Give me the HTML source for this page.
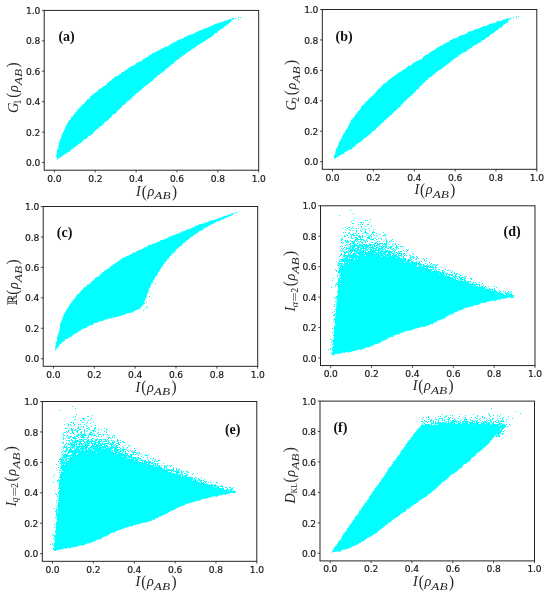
<!DOCTYPE html>
<html lang="en"><head><meta charset="utf-8"><title>Figure</title>
<style>html,body{margin:0;padding:0;background:#fff}svg{display:block}</style></head>
<body>
<svg width="550" height="594" viewBox="0 0 550 594">
<rect width="550" height="594" fill="#fff"/>
<g id="ax-a">
<polygon fill="#00ffff" points="56.8,159.6 57.0,159.2 57.1,157.5 56.9,156.9 55.8,156.3 56.7,154.4 56.5,154.0 57.4,152.7 56.4,152.6 56.8,151.4 57.0,150.0 57.9,149.1 58.6,147.7 58.0,147.1 58.1,146.3 59.0,144.9 58.7,143.8 59.3,143.0 59.0,141.7 60.2,141.6 59.8,140.1 60.4,139.0 60.8,137.6 61.6,137.8 61.5,136.4 61.8,134.9 62.7,133.8 62.2,133.8 63.5,131.7 63.9,131.1 64.2,129.9 65.0,129.2 65.1,128.3 65.0,127.3 66.0,125.8 66.6,125.3 67.4,124.0 67.7,123.1 67.9,121.9 68.7,120.9 69.1,120.6 70.3,119.8 71.0,118.3 70.8,117.0 72.2,117.2 73.1,115.6 73.8,115.2 74.2,114.4 74.4,113.4 75.8,112.4 76.5,111.8 76.6,110.9 77.9,110.1 78.0,108.6 78.9,108.6 80.0,108.0 80.8,106.7 80.9,106.0 82.3,104.9 82.2,104.8 83.8,103.9 84.6,103.2 84.9,102.3 85.6,101.9 86.0,101.1 87.3,99.9 87.3,98.8 89.1,98.9 89.8,98.0 89.9,97.2 90.8,96.3 91.5,95.8 92.0,94.8 93.7,94.9 93.4,93.5 94.8,93.1 96.0,92.5 96.3,92.0 97.6,91.4 97.7,91.1 98.9,89.5 99.7,88.8 100.3,89.1 101.1,88.4 102.7,87.0 103.7,86.1 103.9,86.6 104.6,85.8 105.7,84.9 107.0,84.4 107.0,83.5 108.0,82.8 109.4,81.7 109.5,80.9 110.2,81.3 111.9,79.6 111.9,78.8 113.3,79.0 114.0,77.7 114.6,77.1 115.7,76.3 116.9,76.6 117.2,76.3 118.6,75.3 118.4,74.7 119.6,74.4 120.8,73.9 121.2,72.7 122.0,72.2 123.2,71.8 124.6,71.5 125.1,70.5 126.1,69.6 126.9,70.1 127.2,69.4 128.3,68.2 129.3,67.6 130.9,67.1 131.1,66.1 132.7,66.0 133.7,65.1 133.8,64.9 135.4,64.7 136.2,63.2 136.7,63.2 137.9,62.3 138.4,62.4 138.9,61.6 140.3,61.6 141.9,60.9 142.3,60.5 143.3,59.0 144.0,58.5 144.5,58.7 146.2,57.3 146.8,57.5 148.0,56.8 148.6,56.1 149.7,54.9 149.9,54.6 151.5,54.9 151.6,53.5 152.8,53.1 154.2,53.2 154.9,52.3 155.5,52.1 156.6,51.6 157.2,50.7 157.9,50.9 159.3,50.3 160.5,49.3 161.3,49.1 161.7,49.3 162.6,48.0 164.2,48.1 164.5,47.5 165.0,46.6 166.4,46.7 167.8,46.5 168.6,45.9 169.3,45.1 169.5,44.7 171.3,43.9 171.4,43.2 173.2,43.6 173.4,42.3 174.8,42.1 175.2,42.3 175.9,41.5 177.8,40.4 178.3,39.9 179.2,39.4 180.1,39.6 181.2,38.9 181.4,39.1 182.9,38.4 183.6,38.3 184.6,37.0 185.4,37.2 186.3,36.4 187.1,35.8 188.0,35.5 189.3,35.3 189.4,34.6 190.4,34.6 191.7,34.4 193.2,33.7 194.3,33.2 195.3,33.0 195.5,32.4 197.4,31.5 197.9,31.8 199.5,30.6 200.0,30.5 201.1,29.7 201.9,30.1 202.7,29.7 204.6,28.4 205.5,28.2 205.5,28.1 207.6,27.8 207.7,27.4 209.3,26.5 210.5,26.5 210.6,26.3 212.0,25.4 213.5,24.7 213.7,25.0 214.6,23.9 216.3,23.7 216.6,23.6 217.9,23.3 218.5,23.2 219.4,22.7 221.1,21.9 221.7,22.4 223.3,21.3 223.5,21.5 224.6,20.5 226.2,20.7 227.2,19.8 227.8,20.5 229.2,19.5 229.8,18.8 230.7,19.1 231.7,18.9 232.8,17.8 233.5,17.5 234.2,19.1 233.3,19.8 232.5,19.8 231.3,20.8 230.9,22.0 230.4,22.3 229.6,22.8 228.4,23.9 227.7,24.6 226.9,24.6 226.3,25.9 225.4,25.9 224.0,26.6 223.7,27.5 222.7,28.5 221.5,28.8 220.8,29.1 220.0,30.1 218.7,30.7 218.2,30.9 217.7,32.3 216.9,32.9 215.4,33.0 214.7,33.2 214.4,33.9 213.7,35.0 212.4,36.1 211.4,36.7 211.1,37.1 210.4,37.5 208.9,38.3 207.8,39.0 206.8,39.8 206.9,39.6 205.3,40.7 205.1,41.0 203.6,41.7 202.3,42.7 202.0,43.1 201.3,43.0 199.8,44.2 198.8,44.6 198.3,44.9 197.0,45.8 196.2,46.6 196.3,46.4 195.2,47.5 194.3,47.7 193.0,49.1 192.8,48.6 191.3,49.5 190.8,49.8 190.5,51.0 188.9,51.2 187.9,51.6 187.2,52.9 186.7,52.5 186.3,53.4 184.4,54.4 184.5,55.1 182.9,55.7 182.1,56.0 182.3,56.6 180.7,57.1 180.0,57.7 179.3,58.7 178.6,58.8 177.8,59.8 176.4,60.5 175.9,60.6 175.1,61.7 174.2,62.7 173.6,63.5 172.1,64.2 172.1,63.8 170.7,65.6 169.7,66.3 168.6,66.9 168.9,67.3 167.5,67.9 166.5,68.3 166.1,69.1 165.1,69.4 164.8,71.2 163.1,71.6 162.6,72.3 161.3,73.0 160.8,73.5 160.2,73.4 159.2,75.0 157.9,75.3 157.5,75.7 157.0,76.4 155.8,77.5 154.6,78.5 153.6,78.4 153.7,79.7 152.8,80.6 151.9,81.2 150.5,82.0 150.3,82.0 149.5,82.6 148.7,83.9 147.0,84.8 146.8,85.1 146.1,85.8 145.3,86.0 143.5,87.5 143.2,88.0 142.2,88.8 142.3,89.2 141.3,89.8 140.1,90.6 139.8,91.0 138.1,92.2 138.3,93.1 136.9,92.8 135.8,93.5 135.6,94.3 134.7,95.4 134.0,95.6 132.8,96.9 131.9,97.2 131.7,98.4 130.8,98.8 130.2,99.7 129.4,100.6 128.7,100.3 128.4,101.0 126.5,102.0 126.5,103.0 125.0,103.7 125.0,104.5 124.1,104.8 122.7,105.2 122.0,106.4 121.9,107.2 121.1,107.7 119.8,108.6 119.8,109.1 118.2,110.5 117.4,110.8 117.0,111.3 116.8,111.7 115.9,113.3 115.2,114.1 114.3,113.7 113.0,114.4 112.2,115.6 111.6,116.8 111.5,117.3 110.2,118.1 108.9,117.9 109.1,119.1 108.3,120.0 107.1,120.4 106.6,121.7 105.6,121.6 104.7,122.4 104.4,123.1 103.3,123.9 102.0,125.2 101.9,125.6 100.7,126.6 100.1,126.6 98.8,127.7 98.8,128.3 97.4,128.8 97.0,129.0 95.7,130.3 95.1,131.1 94.4,132.0 93.8,132.1 93.0,133.2 92.5,134.1 91.3,134.8 90.3,135.4 90.2,135.9 88.7,135.8 88.0,136.9 87.9,137.3 86.7,138.2 85.2,139.6 84.5,139.2 83.6,139.8 83.3,140.3 82.6,141.2 81.3,142.5 80.2,143.0 80.4,143.7 78.7,143.5 78.6,144.0 77.2,145.2 76.9,145.8 75.7,146.1 75.1,147.2 74.4,147.4 73.5,148.0 71.9,148.9 71.0,149.0 71.3,149.8 70.4,151.2 68.8,151.7 68.7,152.2 67.1,152.5 66.7,153.4 66.2,153.7 65.1,153.8 64.4,154.8 63.3,155.0 62.1,156.2 61.2,156.8 60.9,157.8 59.3,157.5 58.1,159.0 57.5,160.0"/>
<path fill="#00ffff" d="M238 17h1v1h-1zM240 17h1v1h-1zM238 19h1v1h-1zM235 18h1v1h-1z"/>
<rect x="44.20" y="10.40" width="214.50" height="159.80" fill="none" stroke="#1a1a1a" stroke-width="0.95"/>
<path d="M54.41 170.20v2.3M44.20 162.59h-2.3M95.27 170.20v2.3M44.20 132.15h-2.3M136.13 170.20v2.3M44.20 101.71h-2.3M176.99 170.20v2.3M44.20 71.28h-2.3M217.84 170.20v2.3M44.20 40.84h-2.3M258.70 170.20v2.3M44.20 10.40h-2.3" stroke="#1a1a1a" stroke-width="0.75" fill="none"/>
<g font-family="DejaVu Sans, Liberation Sans, sans-serif" font-size="9.1" letter-spacing="-0.12" fill="#161616" stroke="#161616" stroke-width="0.18"><text x="54.4" y="181.5" text-anchor="middle">0.0</text><text x="40.2" y="166.2" text-anchor="end">0.0</text><text x="95.3" y="181.5" text-anchor="middle">0.2</text><text x="40.2" y="135.8" text-anchor="end">0.2</text><text x="136.1" y="181.5" text-anchor="middle">0.4</text><text x="40.2" y="105.3" text-anchor="end">0.4</text><text x="177.0" y="181.5" text-anchor="middle">0.6</text><text x="40.2" y="74.9" text-anchor="end">0.6</text><text x="217.8" y="181.5" text-anchor="middle">0.8</text><text x="40.2" y="44.4" text-anchor="end">0.8</text><text x="258.7" y="181.5" text-anchor="middle">1.0</text><text x="40.2" y="14.0" text-anchor="end">1.0</text></g>
<text x="66.6" y="41.4" text-anchor="middle" font-family="Liberation Serif, DejaVu Serif, serif" font-weight="bold" font-size="14" fill="#111">(a)</text>
<g transform="translate(136.1 195.8)" font-family="Liberation Serif, DejaVu Serif, serif" font-size="14.2" fill="#262626"><text x="0.0" y="0.0" font-style="italic">I</text><text transform="translate(5.6 0.8) scale(1.00 1.11)" font-size="15.2">(</text><text x="11.3" y="0.0" font-style="italic">ρ</text><text transform="translate(18.2 3.6) scale(1.36 1.00)" font-style="italic" font-size="9.8">AB</text><text transform="translate(35.8 0.8) scale(1.00 1.11)" font-size="15.2">)</text></g>
<g transform="translate(18.2 113.1) rotate(-90)" font-family="Liberation Serif, DejaVu Serif, serif" font-size="14.2" fill="#262626"><text x="0.0" y="0.0" font-style="italic" font-size="14.4">G</text><text x="8.7" y="2.4" font-size="10.0">1</text><text transform="translate(15.3 -0.3) scale(1.00 1.11)" font-size="15.2">(</text><text x="21.0" y="0.0" font-style="italic">ρ</text><text transform="translate(27.9 3.6) scale(1.36 1.00)" font-style="italic" font-size="9.8">AB</text><text transform="translate(45.5 -0.3) scale(1.00 1.11)" font-size="15.2">)</text></g>
</g>
<g id="ax-b">
<polygon fill="#00ffff" points="334.0,158.3 333.9,157.6 333.9,156.6 333.9,155.7 334.8,154.7 335.3,153.9 335.4,152.2 335.4,150.9 336.5,149.6 335.9,149.0 336.3,148.3 337.7,147.3 337.6,146.2 337.9,145.3 338.7,144.2 338.6,143.1 338.8,142.6 340.0,141.3 340.4,140.7 340.3,139.4 341.5,139.4 341.4,138.1 342.0,137.1 342.4,136.2 342.7,135.0 343.2,134.4 344.2,133.6 344.4,132.8 345.0,132.2 345.4,130.4 346.0,129.7 347.0,129.3 347.6,128.1 348.0,127.3 347.7,125.7 349.2,125.8 349.2,123.8 349.5,123.7 350.3,122.6 351.2,121.2 351.0,120.1 351.8,119.2 352.7,118.9 353.4,117.5 354.5,116.4 355.0,116.1 355.5,114.7 355.3,115.0 356.4,113.6 356.6,113.3 357.5,112.5 357.9,111.0 359.4,110.8 360.1,108.9 360.6,109.0 361.3,108.0 361.1,106.9 361.7,105.5 362.9,105.5 364.0,104.1 364.7,103.8 365.2,102.8 365.7,102.6 366.2,101.0 366.9,101.1 367.3,100.7 368.5,99.4 368.8,98.9 370.0,97.7 371.0,96.7 371.1,96.8 371.7,96.1 373.2,95.5 373.9,94.3 373.9,93.8 375.3,93.3 376.0,91.5 376.8,91.6 377.2,90.1 377.5,89.4 378.0,89.2 378.7,88.8 379.4,88.4 381.0,87.0 381.6,86.0 382.7,85.8 382.7,84.5 383.5,84.0 384.8,83.5 385.2,82.8 386.5,82.8 387.4,81.1 388.4,80.4 388.2,80.4 389.7,79.0 391.0,79.1 390.9,78.4 391.7,77.4 392.9,76.7 393.3,76.5 394.5,76.2 394.9,74.9 396.7,74.5 396.6,74.4 397.5,73.4 398.8,72.8 399.3,71.9 400.4,71.7 401.7,71.3 401.6,70.8 403.2,69.8 404.5,69.6 404.9,68.4 405.3,68.4 406.9,68.0 407.0,67.1 408.4,65.8 409.2,66.3 409.9,65.7 411.3,64.9 412.0,64.4 413.0,63.1 414.1,63.1 414.8,62.1 415.9,61.5 417.0,60.9 417.8,60.8 418.6,60.7 419.3,59.8 420.4,59.6 421.8,59.2 422.6,58.3 423.1,57.0 423.7,56.4 424.4,56.0 425.4,54.9 426.2,54.9 427.4,54.5 428.2,53.3 429.2,53.4 429.9,52.2 431.3,52.1 431.7,51.1 432.2,50.9 434.0,50.0 434.8,50.1 435.0,49.3 435.9,49.0 437.1,47.5 437.8,47.2 439.6,46.9 439.4,46.1 441.2,46.0 441.4,45.2 442.9,45.2 443.2,44.7 444.2,43.8 445.2,43.7 446.0,42.8 447.1,42.3 448.3,42.2 448.9,41.7 449.7,40.8 450.4,40.2 451.9,39.7 452.5,39.1 453.4,39.0 454.2,38.1 454.9,38.5 456.4,38.3 456.7,37.9 458.4,36.7 459.0,36.3 460.6,36.1 460.6,35.3 461.9,35.1 463.1,35.1 463.9,34.5 465.3,33.9 466.3,33.7 467.5,33.0 467.6,31.9 468.6,31.4 469.7,31.5 471.0,31.2 472.1,31.0 472.9,30.7 474.5,29.6 475.3,29.5 476.5,29.1 476.7,28.9 478.0,29.0 478.7,28.3 480.3,28.1 481.2,26.9 482.4,27.0 482.6,27.1 483.6,25.8 485.0,26.3 486.3,25.9 487.2,25.1 487.7,25.3 489.0,24.5 489.8,23.8 491.4,23.3 492.0,23.6 493.2,23.0 493.7,23.2 495.6,22.7 496.6,22.6 496.6,21.3 497.9,20.8 499.2,21.2 500.2,21.2 501.2,20.6 502.4,20.5 503.6,19.3 504.2,19.2 505.5,19.6 506.4,18.4 506.7,18.3 508.7,18.8 509.5,18.4 510.2,18.1 511.0,18.0 512.3,17.1 511.8,17.9 511.3,18.3 510.1,19.8 510.2,19.8 508.3,20.3 508.3,21.6 507.6,22.5 506.6,23.1 506.0,23.6 505.0,24.1 503.6,24.6 502.6,26.1 502.6,26.2 501.8,27.5 500.0,27.8 499.6,28.2 498.5,28.6 498.4,30.0 496.7,30.2 496.4,30.5 495.0,31.7 494.8,32.5 493.5,32.8 493.0,32.9 492.1,33.6 491.1,34.2 491.0,34.5 489.5,35.2 489.3,36.8 487.9,36.8 487.1,37.3 485.9,37.8 485.8,38.3 484.9,39.6 484.0,39.9 482.4,40.3 481.7,40.5 481.2,41.5 480.2,42.7 479.1,42.5 478.6,43.1 477.2,44.1 475.7,44.9 476.0,44.7 474.7,45.5 473.3,45.8 472.5,47.1 471.4,47.7 470.5,47.9 469.8,48.9 469.2,48.8 468.0,50.1 466.9,50.3 466.7,51.2 465.4,52.0 464.7,52.2 463.8,52.3 462.6,53.0 461.7,53.4 460.3,54.6 459.6,55.1 458.6,54.9 458.4,56.4 457.6,56.8 455.9,57.6 455.4,58.0 455.1,58.4 453.4,59.3 452.7,60.0 452.4,60.8 451.4,60.6 450.7,61.7 449.4,62.9 449.3,63.2 447.6,63.6 447.7,63.9 446.6,65.0 445.1,65.9 444.8,66.0 444.0,66.9 442.8,67.7 442.1,68.5 441.8,68.9 440.4,69.5 439.2,70.3 438.6,70.1 438.2,70.9 437.3,71.6 436.4,72.0 435.4,73.1 434.6,74.0 433.6,74.4 432.8,75.4 432.0,76.1 431.3,76.4 431.1,76.6 430.3,77.2 428.5,78.0 428.1,79.2 427.8,79.8 426.2,80.2 425.3,81.1 425.2,81.9 424.1,82.7 423.1,83.5 422.6,84.2 421.9,85.2 421.3,85.1 420.4,86.5 419.4,87.3 418.8,88.4 418.2,89.2 417.1,89.1 416.7,89.8 415.8,90.6 415.5,91.4 414.8,92.7 413.4,92.8 413.0,94.4 411.6,95.0 411.4,95.2 410.4,96.6 409.6,96.4 409.6,97.0 408.7,97.5 407.8,98.2 407.3,99.5 406.0,99.8 405.3,101.5 405.0,101.0 403.8,101.9 403.7,102.6 402.2,104.3 402.2,104.7 400.7,104.7 400.7,105.9 400.3,107.2 398.5,107.4 397.7,108.2 398.0,108.7 396.5,109.6 396.1,110.8 394.7,110.7 394.3,111.5 393.9,112.4 392.6,113.1 391.9,114.7 391.6,114.8 390.0,115.6 389.5,116.5 389.4,116.3 387.7,118.0 387.5,117.9 386.3,119.1 386.1,119.4 384.8,120.0 384.6,120.6 383.5,122.0 383.2,122.6 381.5,122.9 381.2,124.0 380.1,124.6 380.4,125.8 378.9,125.8 377.9,126.6 377.8,127.2 376.5,128.3 376.3,128.2 375.6,129.5 374.8,130.5 374.0,130.4 372.4,131.6 371.8,131.7 371.3,133.3 370.1,134.2 369.2,134.8 369.0,134.7 368.0,135.7 367.0,136.6 366.5,137.3 365.2,138.1 364.1,138.1 363.9,138.9 362.4,140.0 362.5,140.4 360.9,141.3 360.7,142.0 359.6,142.3 358.7,143.2 357.7,143.2 357.1,143.8 355.9,145.3 354.9,146.0 354.8,146.8 354.0,147.1 352.6,147.2 352.5,148.7 350.8,149.4 350.5,149.7 349.7,149.7 348.3,150.2 347.1,151.1 346.5,152.0 345.5,151.6 344.3,152.7 344.5,153.7 343.2,154.1 341.5,154.6 341.3,154.5 339.7,155.7 338.8,156.0 337.9,156.7 337.0,157.7 336.9,157.2 334.9,158.8 334.8,159.2"/>
<path fill="#00ffff" d="M516 16h1v1h-1zM518 16h1v1h-1zM516 18h1v1h-1zM513 17h1v1h-1z"/>
<rect x="322.30" y="9.50" width="214.50" height="159.80" fill="none" stroke="#1a1a1a" stroke-width="0.95"/>
<path d="M332.51 169.30v2.3M322.30 161.69h-2.3M373.37 169.30v2.3M322.30 131.25h-2.3M414.23 169.30v2.3M322.30 100.81h-2.3M455.09 169.30v2.3M322.30 70.38h-2.3M495.94 169.30v2.3M322.30 39.94h-2.3M536.80 169.30v2.3M322.30 9.50h-2.3" stroke="#1a1a1a" stroke-width="0.75" fill="none"/>
<g font-family="DejaVu Sans, Liberation Sans, sans-serif" font-size="9.1" letter-spacing="-0.12" fill="#161616" stroke="#161616" stroke-width="0.18"><text x="332.5" y="180.6" text-anchor="middle">0.0</text><text x="318.3" y="165.3" text-anchor="end">0.0</text><text x="373.4" y="180.6" text-anchor="middle">0.2</text><text x="318.3" y="134.9" text-anchor="end">0.2</text><text x="414.2" y="180.6" text-anchor="middle">0.4</text><text x="318.3" y="104.4" text-anchor="end">0.4</text><text x="455.1" y="180.6" text-anchor="middle">0.6</text><text x="318.3" y="74.0" text-anchor="end">0.6</text><text x="495.9" y="180.6" text-anchor="middle">0.8</text><text x="318.3" y="43.5" text-anchor="end">0.8</text><text x="536.8" y="180.6" text-anchor="middle">1.0</text><text x="318.3" y="13.1" text-anchor="end">1.0</text></g>
<text x="344.1" y="40.5" text-anchor="middle" font-family="Liberation Serif, DejaVu Serif, serif" font-weight="bold" font-size="14" fill="#111">(b)</text>
<g transform="translate(414.5 194.4)" font-family="Liberation Serif, DejaVu Serif, serif" font-size="14.2" fill="#262626"><text x="0.0" y="0.0" font-style="italic">I</text><text transform="translate(5.6 0.8) scale(1.00 1.11)" font-size="15.2">(</text><text x="11.3" y="0.0" font-style="italic">ρ</text><text transform="translate(18.2 3.6) scale(1.36 1.00)" font-style="italic" font-size="9.8">AB</text><text transform="translate(35.8 0.8) scale(1.00 1.11)" font-size="15.2">)</text></g>
<g transform="translate(296.4 110.5) rotate(-90)" font-family="Liberation Serif, DejaVu Serif, serif" font-size="14.2" fill="#262626"><text x="0.0" y="0.0" font-style="italic" font-size="14.4">G</text><text x="8.5" y="2.6" font-size="10.0">2</text><text transform="translate(15.2 -0.3) scale(1.00 1.11)" font-size="15.2">(</text><text x="20.9" y="0.0" font-style="italic">ρ</text><text transform="translate(27.8 3.6) scale(1.36 1.00)" font-style="italic" font-size="9.8">AB</text><text transform="translate(45.4 -0.3) scale(1.00 1.11)" font-size="15.2">)</text></g>
</g>
<g id="ax-c">
<polygon fill="#00ffff" points="55.0,349.4 55.5,348.4 55.1,346.5 55.5,346.1 56.2,345.0 55.6,343.4 55.8,343.5 55.8,342.2 57.2,341.0 57.3,340.1 57.0,338.9 56.8,337.7 57.0,337.2 57.9,335.4 57.9,334.4 58.4,333.7 58.6,332.5 59.2,332.1 59.3,331.2 59.2,329.3 59.6,328.9 60.1,327.8 60.0,326.3 59.9,325.1 60.3,324.9 60.2,323.5 61.1,322.0 60.9,322.1 62.1,320.1 62.7,319.4 62.1,318.9 62.7,317.2 63.3,317.1 63.3,315.6 64.0,313.9 64.0,313.4 65.3,312.9 65.0,311.9 66.4,310.5 66.5,310.1 67.1,308.8 67.7,308.3 68.6,307.0 68.3,306.0 69.4,305.4 69.9,304.9 70.1,304.0 70.7,303.2 72.2,301.7 72.5,300.7 73.3,300.2 73.3,299.3 74.7,299.0 74.9,297.9 75.7,297.0 76.6,295.7 76.9,294.6 78.5,294.0 78.9,294.0 79.3,293.1 79.8,292.2 81.0,291.3 81.9,290.0 82.2,290.0 83.2,288.5 83.7,287.7 84.7,286.9 86.0,286.9 86.8,285.5 87.1,284.8 87.9,284.6 89.2,284.4 89.5,283.5 90.9,283.0 91.0,282.2 91.6,281.3 93.5,280.2 93.7,279.9 94.5,279.3 95.0,277.9 95.8,277.4 97.2,276.7 97.8,276.8 99.1,276.2 100.2,274.7 100.1,274.4 101.7,273.2 102.0,272.4 103.4,272.0 103.8,271.8 104.1,270.9 105.3,270.8 105.8,269.9 107.2,268.8 108.4,269.0 108.6,268.5 109.8,267.5 110.4,266.3 110.8,266.2 112.1,265.4 113.0,265.2 113.5,264.6 114.8,263.4 115.6,263.3 116.7,262.3 117.2,261.8 118.6,261.1 119.2,260.6 120.3,260.2 120.9,259.2 121.8,258.3 123.3,258.0 123.4,258.2 124.5,256.8 125.9,257.3 126.6,255.8 127.8,255.7 128.8,255.7 128.8,254.7 130.6,254.8 130.9,254.4 131.9,253.5 133.0,252.7 134.0,252.2 134.8,252.7 135.9,251.9 136.8,251.2 138.1,250.2 139.2,250.3 140.3,249.4 140.7,249.0 141.8,249.4 143.4,248.2 143.8,247.7 145.5,246.9 146.2,247.6 146.8,246.8 147.8,245.8 148.8,245.1 149.9,244.4 151.4,245.0 152.5,244.0 153.0,243.3 153.6,244.0 154.7,243.3 156.4,242.3 157.4,242.5 158.4,241.4 159.1,241.9 160.5,240.8 160.4,240.0 161.7,240.0 163.3,240.1 163.8,239.3 165.0,239.2 165.7,238.5 167.2,238.2 168.3,237.8 168.5,237.0 169.7,236.5 170.5,236.5 171.8,235.8 173.2,235.6 174.1,234.4 174.8,235.0 176.1,234.6 176.9,233.8 177.5,233.7 179.5,233.2 179.5,232.1 181.0,232.7 181.6,231.5 183.3,231.3 184.6,230.6 185.2,230.9 185.9,230.4 186.7,229.2 187.9,229.5 189.4,229.3 190.4,228.8 191.5,227.9 192.3,227.9 192.5,227.1 193.6,227.2 195.6,226.1 196.1,225.5 197.0,225.5 198.2,225.2 198.6,224.6 200.4,224.3 201.5,223.9 202.5,223.3 202.9,224.0 203.7,223.5 204.4,222.9 206.3,221.9 207.5,222.5 208.2,221.7 209.2,221.3 209.8,220.4 210.9,220.8 212.1,219.8 212.8,220.1 214.6,220.0 215.3,219.6 216.6,219.4 217.6,218.2 218.1,218.8 219.1,217.8 219.5,218.1 221.3,217.2 222.5,216.9 223.0,216.9 223.4,215.8 225.0,215.8 226.3,216.2 226.4,215.6 228.4,214.8 229.0,214.8 230.6,214.6 231.0,214.3 231.5,213.3 232.9,213.2 233.9,213.3 235.5,213.1 235.9,211.9 237.8,212.5 238.2,211.1 238.5,212.1 237.3,213.0 236.7,213.2 235.9,213.3 234.2,213.4 233.2,214.3 233.3,214.2 231.9,215.3 230.9,215.8 229.5,216.2 228.4,216.9 227.7,217.1 226.9,217.7 226.1,217.6 224.6,218.5 224.1,218.9 223.4,219.6 222.0,219.3 220.8,220.6 219.5,221.0 219.1,220.9 218.2,221.2 217.4,221.6 216.1,221.8 215.3,223.0 214.5,222.6 213.9,223.8 212.3,223.9 212.0,223.8 211.3,224.5 209.8,225.7 208.7,225.5 208.7,225.9 207.3,227.1 206.7,227.1 205.0,227.9 204.1,228.2 203.7,228.6 203.1,230.1 201.4,230.4 201.3,230.4 199.7,231.3 198.6,231.4 197.8,232.9 197.3,233.2 196.5,233.0 196.0,234.0 194.4,234.4 194.5,235.1 193.4,235.3 192.9,236.6 191.4,236.7 191.2,237.1 190.6,237.6 189.0,238.8 188.6,239.7 187.2,240.2 187.3,240.4 185.8,240.9 185.0,242.2 184.6,242.9 183.3,243.3 182.6,243.9 181.8,244.9 182.0,245.6 180.7,246.0 179.8,246.3 179.6,246.9 178.8,247.6 177.6,248.4 176.6,249.5 175.7,249.7 175.8,250.4 175.0,252.1 173.5,252.9 173.5,253.3 171.8,253.6 172.1,254.8 171.0,255.6 169.6,256.4 169.4,256.7 169.3,258.2 167.8,258.4 167.5,259.3 166.9,260.0 166.6,261.0 165.3,261.7 165.6,261.9 164.4,263.2 163.2,264.3 163.6,265.6 162.4,265.7 162.3,266.6 161.4,267.4 161.1,268.4 159.8,269.7 159.9,270.3 158.9,271.9 158.4,272.3 158.1,273.2 157.5,274.0 157.0,274.9 156.6,276.4 155.3,276.5 155.4,277.3 154.6,278.2 154.0,279.7 153.0,280.2 152.7,281.6 152.8,281.8 152.2,282.5 151.0,284.2 151.1,284.8 150.4,286.1 150.8,286.7 149.4,288.1 148.9,288.7 148.5,289.5 148.9,290.6 148.7,291.8 147.6,293.3 147.7,293.6 147.0,294.6 146.9,295.6 146.7,297.3 145.6,298.4 144.9,298.8 145.6,299.4 144.8,300.9 143.9,302.6 143.7,303.7 143.3,305.1 142.2,305.5 141.8,306.2 140.5,308.1 140.6,308.1 138.7,309.4 137.5,309.4 136.7,310.1 135.4,310.3 135.1,310.9 133.5,311.2 133.4,312.0 132.1,312.9 131.1,312.2 129.9,313.0 129.3,313.0 127.4,313.3 127.1,313.3 125.8,313.8 124.9,314.9 123.5,314.4 122.4,315.6 121.6,315.0 121.4,315.8 120.1,316.2 118.5,316.2 117.9,316.9 116.5,316.9 116.0,317.1 114.6,317.3 113.8,317.8 113.6,317.6 112.1,317.6 111.3,318.4 109.6,318.4 108.5,318.6 107.4,319.7 106.7,319.3 105.5,319.1 104.6,320.5 103.8,320.5 102.7,320.8 101.7,321.4 101.1,320.9 99.7,321.1 98.7,322.1 98.5,322.3 97.5,322.3 96.1,323.1 94.7,323.1 93.8,323.2 93.2,324.7 91.6,325.2 91.1,325.3 89.5,325.6 88.6,326.3 88.0,326.5 86.7,327.0 86.3,328.0 85.5,328.2 84.2,328.2 82.9,329.0 81.5,329.0 81.4,330.0 79.8,331.1 79.2,331.1 78.1,332.1 76.9,333.1 75.7,333.4 75.5,333.3 74.0,334.3 72.9,335.6 72.2,335.2 71.5,336.7 69.5,337.2 69.0,336.8 68.4,338.6 67.5,338.7 65.4,339.3 65.0,340.1 64.2,341.2 63.1,341.6 62.4,342.5 61.2,343.2 60.5,344.0 60.0,344.1 59.5,345.2 59.0,346.4 58.0,346.4 57.6,347.9 56.7,348.2 56.5,348.7 55.7,350.2 55.1,350.9 54.9,350.2"/>
<path fill="#00ffff" d="M152 282h1v1h-1zM155 283h1v1h-1zM144 303h1v1h-1zM146 306h1v1h-1zM147 307h1v1h-1zM145 308h1v1h-1zM143 310h1v1h-1zM146 302h1v1h-1zM149 296h1v1h-1zM150 293h1v1h-1z"/>
<rect x="43.20" y="206.50" width="214.50" height="159.80" fill="none" stroke="#1a1a1a" stroke-width="0.95"/>
<path d="M53.41 366.30v2.3M43.20 358.69h-2.3M94.27 366.30v2.3M43.20 328.25h-2.3M135.13 366.30v2.3M43.20 297.81h-2.3M175.99 366.30v2.3M43.20 267.38h-2.3M216.84 366.30v2.3M43.20 236.94h-2.3M257.70 366.30v2.3M43.20 206.50h-2.3" stroke="#1a1a1a" stroke-width="0.75" fill="none"/>
<g font-family="DejaVu Sans, Liberation Sans, sans-serif" font-size="9.1" letter-spacing="-0.12" fill="#161616" stroke="#161616" stroke-width="0.18"><text x="53.4" y="377.6" text-anchor="middle">0.0</text><text x="39.2" y="362.3" text-anchor="end">0.0</text><text x="94.3" y="377.6" text-anchor="middle">0.2</text><text x="39.2" y="331.9" text-anchor="end">0.2</text><text x="135.1" y="377.6" text-anchor="middle">0.4</text><text x="39.2" y="301.4" text-anchor="end">0.4</text><text x="176.0" y="377.6" text-anchor="middle">0.6</text><text x="39.2" y="271.0" text-anchor="end">0.6</text><text x="216.8" y="377.6" text-anchor="middle">0.8</text><text x="39.2" y="240.5" text-anchor="end">0.8</text><text x="257.7" y="377.6" text-anchor="middle">1.0</text><text x="39.2" y="210.1" text-anchor="end">1.0</text></g>
<text x="64.6" y="237.2" text-anchor="middle" font-family="Liberation Serif, DejaVu Serif, serif" font-weight="bold" font-size="14" fill="#111">(c)</text>
<g transform="translate(135.6 391.6)" font-family="Liberation Serif, DejaVu Serif, serif" font-size="14.2" fill="#262626"><text x="0.0" y="0.0" font-style="italic">I</text><text transform="translate(5.6 0.8) scale(1.00 1.11)" font-size="15.2">(</text><text x="11.3" y="0.0" font-style="italic">ρ</text><text transform="translate(18.2 3.6) scale(1.36 1.00)" font-style="italic" font-size="9.8">AB</text><text transform="translate(35.8 0.8) scale(1.00 1.11)" font-size="15.2">)</text></g>
<g transform="translate(18.2 305.5) rotate(-90)" font-family="Liberation Serif, DejaVu Serif, serif" font-size="14.2" fill="#262626"><text x="-0.1" y="-1.3" font-size="12.9" font-family="DejaVu Serif, DejaVu Sans, serif">ℝ</text><text transform="translate(10.7 -0.3) scale(1.00 1.11)" font-size="15.2">(</text><text x="16.4" y="0.0" font-style="italic">ρ</text><text transform="translate(23.3 3.6) scale(1.36 1.00)" font-style="italic" font-size="9.8">AB</text><text transform="translate(40.9 -0.3) scale(1.00 1.11)" font-size="15.2">)</text></g>
</g>
<g id="ax-d">
<polygon fill="#00ffff" points="332.7,354.7 331.9,354.4 332.0,352.9 332.1,352.5 333.0,350.7 332.8,349.9 332.3,348.6 333.1,347.6 332.6,347.0 333.0,345.9 333.5,344.7 333.0,343.6 332.8,343.1 333.0,341.8 332.8,340.6 333.5,340.6 333.6,338.9 334.0,337.8 334.1,336.5 333.7,336.5 333.7,335.0 333.8,333.5 334.0,332.9 334.5,331.6 333.7,331.5 333.9,330.5 334.5,329.0 334.1,328.0 334.7,326.4 335.0,326.1 335.2,325.0 335.4,324.3 334.8,323.4 334.9,321.9 334.9,320.9 334.7,320.1 335.0,318.5 335.7,318.1 335.6,316.6 336.1,315.4 335.3,314.9 335.6,313.9 336.5,313.5 335.8,311.7 336.0,310.8 335.8,310.2 335.9,308.9 336.0,308.4 336.4,306.5 337.0,305.7 336.5,304.9 336.6,304.0 336.6,302.7 337.2,301.9 336.7,301.1 337.5,300.2 337.3,299.0 337.3,298.5 337.5,297.3 337.9,295.9 337.5,294.9 338.5,293.8 338.0,292.9 339.0,292.5 339.3,290.6 338.9,290.2 339.2,288.8 340.2,288.6 340.4,287.3 340.3,285.7 340.4,284.7 340.9,283.6 341.6,282.9 341.4,282.5 341.9,281.2 341.4,280.5 342.4,278.3 342.8,278.4 343.1,276.8 343.6,276.2 344.4,274.6 344.2,273.1 344.8,273.0 345.4,271.8 346.7,270.7 346.8,269.9 347.9,268.7 348.2,267.9 348.2,266.6 349.7,266.0 350.1,265.1 351.2,265.0 351.0,263.7 352.2,263.1 353.3,262.8 354.4,261.5 354.6,261.2 356.3,260.4 357.5,259.9 357.6,259.7 359.6,259.1 359.7,258.4 361.2,258.0 361.6,258.9 363.2,258.1 364.3,258.5 364.5,258.2 365.5,258.1 367.1,257.9 368.6,257.1 368.5,256.7 370.2,257.2 371.6,256.4 371.5,256.9 373.1,257.3 373.9,256.5 375.2,257.6 376.4,257.3 376.6,257.1 377.5,257.2 379.4,257.5 379.9,257.0 381.5,257.6 382.0,257.8 382.5,258.0 384.1,258.2 384.6,258.1 385.6,258.6 386.6,258.0 387.6,258.6 388.7,258.7 390.5,258.8 390.4,258.9 392.5,259.0 392.6,259.4 394.1,260.5 395.3,260.2 395.8,261.4 397.3,261.2 397.5,261.2 398.4,261.2 399.8,261.6 401.0,262.5 401.5,262.7 402.4,262.6 403.5,263.4 405.1,264.0 406.1,264.0 407.5,264.5 408.4,264.5 409.1,265.1 410.2,264.7 411.1,265.8 412.3,265.1 413.2,266.4 413.8,266.1 414.6,267.1 416.3,266.4 416.9,267.2 418.1,267.1 419.0,267.8 420.4,267.9 421.5,267.8 422.4,268.4 423.2,268.7 424.3,268.6 425.0,269.4 425.5,269.5 427.3,269.3 428.5,270.5 428.5,271.1 429.6,270.5 431.5,271.8 432.0,271.4 432.8,271.7 434.4,272.1 434.8,273.1 436.2,273.2 437.1,273.3 438.5,273.4 438.8,274.7 439.4,274.8 441.0,275.3 442.5,274.9 442.6,276.2 444.1,275.6 444.5,276.1 445.7,277.3 446.6,277.6 447.9,277.8 449.3,278.2 450.4,278.7 451.2,279.1 451.9,278.8 452.5,279.5 453.6,279.3 455.0,279.2 456.3,279.8 457.4,280.7 457.5,280.0 459.1,281.4 460.4,281.0 461.4,281.0 462.3,281.3 462.7,281.9 464.1,282.8 464.6,282.3 465.5,282.7 466.9,284.0 468.0,283.5 468.9,284.4 470.3,284.6 470.6,285.0 472.4,285.9 472.5,285.6 473.5,286.7 474.4,287.0 476.2,287.6 476.5,287.4 477.7,287.8 478.8,287.3 479.4,287.7 481.0,288.0 481.6,288.9 482.7,288.6 484.4,289.3 485.0,289.6 486.2,289.9 487.2,290.6 487.5,290.6 489.4,291.4 489.7,290.6 490.8,291.4 491.7,291.2 493.3,291.4 494.0,291.8 495.6,292.6 496.1,292.7 496.6,293.4 497.5,293.0 499.4,293.7 499.8,293.5 500.7,294.5 501.8,294.3 503.5,295.0 503.7,294.5 504.5,294.7 505.5,295.8 507.1,295.5 508.0,295.4 508.5,295.5 509.5,295.8 511.2,296.4 512.2,296.2 513.0,296.3 514.6,296.7 513.5,296.6 513.3,296.7 512.6,297.4 510.4,297.6 510.0,296.8 509.2,297.3 508.4,297.6 507.4,297.9 506.0,298.4 505.5,298.3 503.5,299.0 502.7,298.7 502.0,298.3 501.6,298.6 500.5,299.6 499.2,299.9 498.1,299.2 496.9,300.0 496.1,300.5 495.5,300.7 494.3,301.2 492.6,300.3 491.7,300.7 491.0,300.7 490.0,301.2 488.7,301.6 488.2,302.0 487.2,301.8 485.7,302.5 484.7,303.1 483.4,303.0 482.8,302.6 481.9,303.3 481.5,303.3 479.8,303.6 479.1,304.4 478.2,304.9 476.9,304.7 476.5,305.3 474.8,305.0 474.3,305.3 472.8,306.0 472.1,306.7 470.7,306.0 470.2,306.9 468.4,307.1 467.9,307.5 466.7,307.7 466.4,308.1 465.0,308.1 463.8,308.5 462.7,309.6 462.2,310.0 461.2,309.7 460.2,310.2 458.9,310.7 458.3,310.7 456.9,311.8 456.6,312.1 454.8,312.4 453.9,312.7 453.5,313.2 452.8,314.3 451.1,314.5 450.0,314.1 450.1,315.4 448.5,315.1 448.1,316.4 447.3,316.1 445.6,317.5 445.1,317.7 444.5,318.4 442.9,318.9 442.1,319.2 440.9,319.5 440.2,320.1 439.7,320.5 438.6,320.6 437.5,320.6 436.6,322.0 435.4,322.2 434.7,322.6 433.6,322.9 432.9,323.9 432.4,324.4 430.7,323.7 429.9,325.2 429.4,325.1 428.0,325.4 427.3,325.6 425.7,326.6 425.5,326.1 423.5,327.4 423.0,326.5 422.0,326.8 421.2,327.2 420.5,327.3 419.1,327.7 418.0,328.0 417.3,328.2 415.4,328.5 414.4,328.7 414.4,329.5 412.8,329.4 411.9,329.4 411.2,330.5 409.8,330.8 409.4,330.5 408.5,330.4 407.4,330.8 405.7,331.5 404.4,331.6 403.4,331.8 403.4,332.4 401.7,333.0 400.6,332.7 399.5,333.9 398.5,334.4 398.5,334.8 396.4,334.3 396.0,335.4 394.5,335.0 393.4,335.5 393.6,336.7 392.3,337.1 390.8,336.8 389.6,337.4 388.7,337.5 387.9,338.8 387.3,338.8 386.2,339.7 385.5,339.3 384.4,340.8 383.4,340.9 382.2,340.6 382.1,341.4 380.5,341.9 380.5,343.2 379.3,342.8 378.2,343.6 376.9,343.9 376.1,343.9 374.5,344.5 374.6,344.6 373.4,345.1 372.6,346.1 371.1,346.0 370.4,346.4 368.5,347.4 367.4,347.0 367.1,347.6 365.5,347.5 365.2,348.4 363.9,348.3 362.9,349.3 362.1,349.6 361.6,349.5 360.3,350.0 358.9,349.4 358.0,349.7 357.1,350.0 355.8,350.7 354.6,351.1 354.2,351.2 353.0,351.0 351.6,351.7 350.9,351.9 350.1,351.4 349.4,352.4 347.6,352.6 347.5,352.5 345.6,352.1 344.8,353.0 343.7,352.8 343.3,352.5 341.8,352.9 340.6,353.5 340.2,354.0 339.5,353.5 337.3,354.2 336.5,353.7 335.8,354.3 334.9,354.3 333.6,354.4 332.3,355.3"/>
<path fill="#00ffff" d="M394 255h1v1h-1zM349 261h1v1h-1zM347 269h1v1h-1zM413 266h1v1h-1zM358 250h1v1h-1zM345 269h1v1h-1zM362 255h1v1h-1zM348 265h1v1h-1zM380 253h1v1h-1zM357 246h1v1h-1zM363 258h1v1h-1zM454 277h1v1h-1zM340 282h1v1h-1zM359 255h1v1h-1zM490 291h1v1h-1zM386 256h1v1h-1zM363 256h1v1h-1zM378 251h1v1h-1zM383 255h1v1h-1zM456 276h1v1h-1zM407 261h1v1h-1zM347 266h1v1h-1zM365 258h1v1h-1zM354 262h1v1h-1zM363 255h1v1h-1zM401 255h1v1h-1zM422 269h1v1h-1zM397 253h1v1h-1zM365 231h1v1h-1zM430 269h1v1h-1zM341 238h1v1h-1zM383 257h1v1h-1zM342 277h1v1h-1zM375 256h1v1h-1zM373 239h1v1h-1zM351 238h1v1h-1zM421 264h1v1h-1zM464 283h1v1h-1zM479 285h1v1h-1zM360 224h1v1h-1zM374 255h1v1h-1zM379 256h1v1h-1zM410 257h1v1h-1zM429 270h1v1h-1zM369 244h1v1h-1zM367 247h1v1h-1zM475 286h1v1h-1zM380 248h1v1h-1zM361 254h1v1h-1zM349 266h1v1h-1zM396 260h1v1h-1zM464 282h1v1h-1zM414 266h1v1h-1zM355 261h1v1h-1zM359 235h1v1h-1zM352 251h1v1h-1zM412 256h1v1h-1zM351 264h1v1h-1zM359 257h1v1h-1zM356 261h1v1h-1zM372 255h1v1h-1zM425 269h1v1h-1zM340 287h1v1h-1zM370 235h1v1h-1zM355 256h1v1h-1zM346 270h1v1h-1zM365 242h1v1h-1zM386 257h1v1h-1zM418 266h1v1h-1zM391 260h1v1h-1zM425 268h1v1h-1zM337 295h1v1h-1zM407 265h1v1h-1zM390 255h1v1h-1zM363 249h1v1h-1zM344 247h1v1h-1zM480 288h1v1h-1zM377 257h1v1h-1zM400 255h1v1h-1zM423 265h1v1h-1zM348 264h1v1h-1zM350 251h1v1h-1zM350 262h1v1h-1zM437 274h1v1h-1zM502 294h1v1h-1zM416 267h1v1h-1zM439 273h1v1h-1zM505 293h1v1h-1zM341 275h1v1h-1zM361 255h1v1h-1zM485 288h1v1h-1zM485 286h1v1h-1zM388 256h1v1h-1zM385 258h1v1h-1zM464 280h1v1h-1zM345 271h1v1h-1zM366 256h1v1h-1zM361 258h1v1h-1zM397 261h1v1h-1zM507 295h1v1h-1zM375 255h1v1h-1zM491 292h1v1h-1zM380 257h1v1h-1zM343 272h1v1h-1zM390 258h1v1h-1zM356 253h1v1h-1zM376 258h1v1h-1zM390 241h1v1h-1zM420 268h1v1h-1zM391 256h1v1h-1zM426 260h1v1h-1zM377 247h1v1h-1zM424 269h1v1h-1zM406 249h1v1h-1zM362 258h1v1h-1zM395 247h1v1h-1zM468 283h1v1h-1zM395 261h1v1h-1zM386 240h1v1h-1zM373 244h1v1h-1zM345 267h1v1h-1zM342 260h1v1h-1zM472 286h1v1h-1zM396 246h1v1h-1zM385 250h1v1h-1zM503 295h1v1h-1zM381 253h1v1h-1zM393 253h1v1h-1zM350 250h1v1h-1zM380 258h1v1h-1zM351 257h1v1h-1zM358 257h1v1h-1zM426 265h1v1h-1zM355 244h1v1h-1zM344 274h1v1h-1zM416 262h1v1h-1zM503 294h1v1h-1zM402 262h1v1h-1zM339 281h1v1h-1zM369 256h1v1h-1zM348 262h1v1h-1zM353 250h1v1h-1zM409 264h1v1h-1zM372 239h1v1h-1zM418 268h1v1h-1zM497 292h1v1h-1zM362 252h1v1h-1zM500 294h1v1h-1zM371 234h1v1h-1zM346 265h1v1h-1zM375 252h1v1h-1zM404 263h1v1h-1zM344 258h1v1h-1zM343 275h1v1h-1zM341 276h1v1h-1zM368 257h1v1h-1zM359 259h1v1h-1zM427 269h1v1h-1zM501 294h1v1h-1zM470 281h1v1h-1zM362 235h1v1h-1zM373 252h1v1h-1zM393 260h1v1h-1zM357 250h1v1h-1zM415 262h1v1h-1zM392 260h1v1h-1zM363 253h1v1h-1zM360 249h1v1h-1zM340 280h1v1h-1zM355 259h1v1h-1zM379 257h1v1h-1zM383 252h1v1h-1zM344 268h1v1h-1zM378 247h1v1h-1zM339 263h1v1h-1zM362 250h1v1h-1zM463 279h1v1h-1zM376 256h1v1h-1zM343 259h1v1h-1zM492 292h1v1h-1zM394 249h1v1h-1zM374 257h1v1h-1zM341 251h1v1h-1zM397 262h1v1h-1zM344 263h1v1h-1zM494 290h1v1h-1zM355 260h1v1h-1zM343 258h1v1h-1zM354 247h1v1h-1zM373 253h1v1h-1zM446 276h1v1h-1zM431 267h1v1h-1zM353 261h1v1h-1zM337 291h1v1h-1zM424 267h1v1h-1zM351 252h1v1h-1zM352 264h1v1h-1zM394 251h1v1h-1zM366 245h1v1h-1zM370 247h1v1h-1zM364 255h1v1h-1zM465 277h1v1h-1zM354 218h1v1h-1zM413 263h1v1h-1zM355 257h1v1h-1zM362 254h1v1h-1zM447 277h1v1h-1zM369 245h1v1h-1zM509 295h1v1h-1zM354 254h1v1h-1zM471 278h1v1h-1zM399 261h1v1h-1zM407 263h1v1h-1zM430 267h1v1h-1zM406 264h1v1h-1zM436 265h1v1h-1zM433 268h1v1h-1zM384 257h1v1h-1zM412 266h1v1h-1zM347 242h1v1h-1zM475 284h1v1h-1zM448 278h1v1h-1zM381 257h1v1h-1zM398 251h1v1h-1zM383 258h1v1h-1zM424 268h1v1h-1zM506 295h1v1h-1zM449 276h1v1h-1zM495 291h1v1h-1zM384 235h1v1h-1zM395 259h1v1h-1zM475 285h1v1h-1zM345 272h1v1h-1zM343 256h1v1h-1zM415 266h1v1h-1zM409 262h1v1h-1zM374 258h1v1h-1zM507 293h1v1h-1zM359 247h1v1h-1zM370 245h1v1h-1zM465 282h1v1h-1zM481 289h1v1h-1zM465 280h1v1h-1zM422 268h1v1h-1zM456 277h1v1h-1zM344 254h1v1h-1zM352 247h1v1h-1zM419 267h1v1h-1zM418 263h1v1h-1zM370 256h1v1h-1zM428 271h1v1h-1zM355 245h1v1h-1zM343 274h1v1h-1zM351 255h1v1h-1zM416 256h1v1h-1zM343 271h1v1h-1zM484 287h1v1h-1zM510 296h1v1h-1zM358 258h1v1h-1zM379 250h1v1h-1zM339 289h1v1h-1zM493 292h1v1h-1zM447 278h1v1h-1zM347 261h1v1h-1zM384 258h1v1h-1zM396 258h1v1h-1zM347 257h1v1h-1zM382 255h1v1h-1zM339 284h1v1h-1zM361 242h1v1h-1zM371 257h1v1h-1zM385 253h1v1h-1zM439 275h1v1h-1zM383 247h1v1h-1zM401 261h1v1h-1zM441 274h1v1h-1zM358 243h1v1h-1zM469 281h1v1h-1zM431 263h1v1h-1zM376 257h1v1h-1zM342 266h1v1h-1zM371 250h1v1h-1zM461 278h1v1h-1zM463 283h1v1h-1zM361 240h1v1h-1zM362 246h1v1h-1zM346 234h1v1h-1zM349 259h1v1h-1zM340 246h1v1h-1zM358 228h1v1h-1zM388 257h1v1h-1zM379 252h1v1h-1zM391 259h1v1h-1zM440 274h1v1h-1zM364 240h1v1h-1zM414 265h1v1h-1zM356 228h1v1h-1zM467 283h1v1h-1zM498 291h1v1h-1zM388 255h1v1h-1zM404 258h1v1h-1zM362 251h1v1h-1zM373 238h1v1h-1zM338 284h1v1h-1zM367 224h1v1h-1zM411 265h1v1h-1zM370 249h1v1h-1zM344 256h1v1h-1zM358 246h1v1h-1zM347 251h1v1h-1zM346 260h1v1h-1zM344 251h1v1h-1zM379 249h1v1h-1zM376 242h1v1h-1zM379 255h1v1h-1zM357 256h1v1h-1zM408 265h1v1h-1zM380 256h1v1h-1zM378 250h1v1h-1zM397 256h1v1h-1zM353 243h1v1h-1zM359 242h1v1h-1zM479 288h1v1h-1zM401 259h1v1h-1zM358 252h1v1h-1zM405 264h1v1h-1zM453 278h1v1h-1zM389 257h1v1h-1zM376 248h1v1h-1zM386 244h1v1h-1zM489 291h1v1h-1zM342 268h1v1h-1zM369 237h1v1h-1zM344 273h1v1h-1zM371 254h1v1h-1zM343 264h1v1h-1zM381 250h1v1h-1zM398 254h1v1h-1zM352 259h1v1h-1zM386 241h1v1h-1zM416 264h1v1h-1zM500 292h1v1h-1zM383 235h1v1h-1zM381 255h1v1h-1zM361 248h1v1h-1zM378 253h1v1h-1zM399 252h1v1h-1zM483 289h1v1h-1zM400 263h1v1h-1zM386 252h1v1h-1zM416 266h1v1h-1zM366 258h1v1h-1zM351 221h1v1h-1zM436 272h1v1h-1zM413 264h1v1h-1zM341 260h1v1h-1zM389 254h1v1h-1zM394 252h1v1h-1zM393 256h1v1h-1zM439 272h1v1h-1zM365 226h1v1h-1zM352 257h1v1h-1zM412 262h1v1h-1zM389 255h1v1h-1zM398 262h1v1h-1zM480 287h1v1h-1zM389 247h1v1h-1zM341 268h1v1h-1zM415 264h1v1h-1zM357 238h1v1h-1zM433 267h1v1h-1zM464 279h1v1h-1zM406 251h1v1h-1zM361 259h1v1h-1zM378 258h1v1h-1zM482 289h1v1h-1zM464 281h1v1h-1zM354 245h1v1h-1zM371 242h1v1h-1zM356 259h1v1h-1zM339 288h1v1h-1zM478 288h1v1h-1zM444 276h1v1h-1zM440 275h1v1h-1zM399 258h1v1h-1zM395 258h1v1h-1zM511 296h1v1h-1zM385 257h1v1h-1zM343 261h1v1h-1zM401 256h1v1h-1zM408 264h1v1h-1zM360 239h1v1h-1zM366 255h1v1h-1zM348 241h1v1h-1zM385 259h1v1h-1zM366 247h1v1h-1zM443 272h1v1h-1zM361 252h1v1h-1zM382 258h1v1h-1zM511 295h1v1h-1zM472 283h1v1h-1zM470 285h1v1h-1zM360 252h1v1h-1zM435 266h1v1h-1zM401 262h1v1h-1zM365 245h1v1h-1zM496 291h1v1h-1zM489 290h1v1h-1zM376 255h1v1h-1zM341 242h1v1h-1zM366 257h1v1h-1zM509 296h1v1h-1zM343 273h1v1h-1zM412 267h1v1h-1zM492 291h1v1h-1zM360 257h1v1h-1zM457 278h1v1h-1zM398 246h1v1h-1zM401 258h1v1h-1zM393 241h1v1h-1zM337 274h1v1h-1zM403 263h1v1h-1zM357 245h1v1h-1zM508 294h1v1h-1zM421 268h1v1h-1zM470 283h1v1h-1zM378 255h1v1h-1zM353 242h1v1h-1zM372 245h1v1h-1zM395 254h1v1h-1zM470 284h1v1h-1zM407 260h1v1h-1zM350 264h1v1h-1zM352 255h1v1h-1zM346 256h1v1h-1zM422 266h1v1h-1zM372 251h1v1h-1zM435 272h1v1h-1zM347 258h1v1h-1zM442 270h1v1h-1zM373 257h1v1h-1zM458 281h1v1h-1zM459 278h1v1h-1zM388 254h1v1h-1zM342 267h1v1h-1zM357 260h1v1h-1zM388 251h1v1h-1zM353 241h1v1h-1zM352 260h1v1h-1zM342 239h1v1h-1zM452 279h1v1h-1zM416 263h1v1h-1zM353 246h1v1h-1zM451 277h1v1h-1zM399 257h1v1h-1zM365 232h1v1h-1zM363 239h1v1h-1zM357 253h1v1h-1zM357 259h1v1h-1zM494 288h1v1h-1zM364 258h1v1h-1zM351 261h1v1h-1zM462 282h1v1h-1zM344 261h1v1h-1zM499 290h1v1h-1zM352 249h1v1h-1zM456 280h1v1h-1zM361 257h1v1h-1zM372 242h1v1h-1zM371 255h1v1h-1zM408 261h1v1h-1zM476 287h1v1h-1zM339 270h1v1h-1zM374 243h1v1h-1zM352 250h1v1h-1zM479 287h1v1h-1zM344 272h1v1h-1zM400 253h1v1h-1zM430 271h1v1h-1zM399 259h1v1h-1zM350 259h1v1h-1zM509 294h1v1h-1zM469 284h1v1h-1zM494 291h1v1h-1zM438 274h1v1h-1zM361 239h1v1h-1zM365 257h1v1h-1zM392 258h1v1h-1zM371 253h1v1h-1zM356 256h1v1h-1zM384 243h1v1h-1zM392 253h1v1h-1zM385 243h1v1h-1zM473 283h1v1h-1zM356 250h1v1h-1zM398 253h1v1h-1zM360 259h1v1h-1zM484 288h1v1h-1zM360 247h1v1h-1zM348 248h1v1h-1zM353 223h1v1h-1zM460 278h1v1h-1zM394 256h1v1h-1zM356 251h1v1h-1zM397 258h1v1h-1zM342 279h1v1h-1zM348 253h1v1h-1zM360 248h1v1h-1zM397 259h1v1h-1zM386 251h1v1h-1zM371 251h1v1h-1zM390 259h1v1h-1zM485 291h1v1h-1zM374 254h1v1h-1zM344 265h1v1h-1zM349 256h1v1h-1zM404 260h1v1h-1zM359 254h1v1h-1zM348 267h1v1h-1zM442 276h1v1h-1zM467 284h1v1h-1zM470 278h1v1h-1zM427 266h1v1h-1zM350 257h1v1h-1zM388 259h1v1h-1zM468 281h1v1h-1zM412 253h1v1h-1zM486 290h1v1h-1zM363 222h1v1h-1zM357 252h1v1h-1zM463 281h1v1h-1zM390 257h1v1h-1zM353 220h1v1h-1zM385 255h1v1h-1zM340 261h1v1h-1zM497 293h1v1h-1zM368 248h1v1h-1zM382 250h1v1h-1zM373 231h1v1h-1zM348 268h1v1h-1zM400 262h1v1h-1zM354 257h1v1h-1zM465 278h1v1h-1zM338 271h1v1h-1zM364 250h1v1h-1zM453 280h1v1h-1zM348 246h1v1h-1zM361 256h1v1h-1zM356 245h1v1h-1zM387 250h1v1h-1zM490 290h1v1h-1zM353 256h1v1h-1zM367 253h1v1h-1zM434 273h1v1h-1zM488 286h1v1h-1zM429 271h1v1h-1zM351 236h1v1h-1zM373 254h1v1h-1zM421 269h1v1h-1zM431 270h1v1h-1zM377 241h1v1h-1zM456 274h1v1h-1zM417 257h1v1h-1zM393 259h1v1h-1zM455 279h1v1h-1zM382 253h1v1h-1zM363 252h1v1h-1zM347 268h1v1h-1zM340 284h1v1h-1zM371 239h1v1h-1zM437 271h1v1h-1zM349 255h1v1h-1zM478 287h1v1h-1zM451 272h1v1h-1zM373 232h1v1h-1zM350 234h1v1h-1zM367 258h1v1h-1zM349 265h1v1h-1zM459 281h1v1h-1zM511 297h1v1h-1zM393 257h1v1h-1zM365 249h1v1h-1zM435 273h1v1h-1zM353 254h1v1h-1zM361 251h1v1h-1zM376 250h1v1h-1zM346 269h1v1h-1zM345 270h1v1h-1zM376 253h1v1h-1zM343 248h1v1h-1zM359 250h1v1h-1zM389 252h1v1h-1zM352 263h1v1h-1zM507 296h1v1h-1zM349 258h1v1h-1zM358 224h1v1h-1zM357 247h1v1h-1zM466 283h1v1h-1zM506 293h1v1h-1zM438 271h1v1h-1zM383 256h1v1h-1zM399 262h1v1h-1zM485 289h1v1h-1zM452 275h1v1h-1zM349 251h1v1h-1zM372 253h1v1h-1zM438 272h1v1h-1zM353 244h1v1h-1zM372 254h1v1h-1zM454 273h1v1h-1zM362 243h1v1h-1zM353 259h1v1h-1zM367 237h1v1h-1zM372 247h1v1h-1zM346 264h1v1h-1zM352 246h1v1h-1zM351 260h1v1h-1zM426 268h1v1h-1zM420 266h1v1h-1zM438 269h1v1h-1zM341 274h1v1h-1zM395 257h1v1h-1zM371 244h1v1h-1zM413 262h1v1h-1zM353 248h1v1h-1zM340 274h1v1h-1zM405 263h1v1h-1zM461 282h1v1h-1zM363 246h1v1h-1zM347 256h1v1h-1zM396 247h1v1h-1zM403 254h1v1h-1zM444 272h1v1h-1zM501 293h1v1h-1zM354 249h1v1h-1zM386 243h1v1h-1zM420 264h1v1h-1zM467 282h1v1h-1zM403 256h1v1h-1zM343 270h1v1h-1zM369 243h1v1h-1zM358 253h1v1h-1zM396 248h1v1h-1zM415 259h1v1h-1zM365 251h1v1h-1zM384 253h1v1h-1zM392 259h1v1h-1zM508 296h1v1h-1zM434 271h1v1h-1zM357 249h1v1h-1zM462 283h1v1h-1zM338 272h1v1h-1zM483 285h1v1h-1zM510 294h1v1h-1zM384 256h1v1h-1zM382 257h1v1h-1zM363 244h1v1h-1zM432 272h1v1h-1zM411 261h1v1h-1zM379 253h1v1h-1zM405 258h1v1h-1zM443 277h1v1h-1zM355 249h1v1h-1zM427 267h1v1h-1zM353 263h1v1h-1zM396 256h1v1h-1zM376 249h1v1h-1zM499 293h1v1h-1zM423 266h1v1h-1zM414 267h1v1h-1zM449 274h1v1h-1zM463 282h1v1h-1zM455 280h1v1h-1zM371 252h1v1h-1zM369 255h1v1h-1zM388 252h1v1h-1zM391 252h1v1h-1zM385 256h1v1h-1zM342 270h1v1h-1zM396 254h1v1h-1zM402 260h1v1h-1zM403 253h1v1h-1zM338 278h1v1h-1zM388 248h1v1h-1zM427 270h1v1h-1zM391 258h1v1h-1zM403 257h1v1h-1zM512 296h1v1h-1zM353 257h1v1h-1zM400 258h1v1h-1zM402 259h1v1h-1zM408 259h1v1h-1zM342 243h1v1h-1zM371 249h1v1h-1zM450 277h1v1h-1zM367 255h1v1h-1zM445 277h1v1h-1zM452 277h1v1h-1zM342 237h1v1h-1zM339 282h1v1h-1zM348 256h1v1h-1zM489 289h1v1h-1zM376 235h1v1h-1zM425 266h1v1h-1zM400 261h1v1h-1zM375 258h1v1h-1zM359 256h1v1h-1zM354 255h1v1h-1zM363 240h1v1h-1zM438 273h1v1h-1zM372 246h1v1h-1zM377 250h1v1h-1zM348 254h1v1h-1zM364 246h1v1h-1zM354 240h1v1h-1zM381 254h1v1h-1zM338 293h1v1h-1zM392 244h1v1h-1zM368 238h1v1h-1zM351 241h1v1h-1zM419 268h1v1h-1zM373 249h1v1h-1zM453 279h1v1h-1zM479 286h1v1h-1zM349 267h1v1h-1zM368 252h1v1h-1zM410 263h1v1h-1zM356 255h1v1h-1zM385 254h1v1h-1zM342 249h1v1h-1zM462 277h1v1h-1zM356 248h1v1h-1zM340 285h1v1h-1zM371 256h1v1h-1zM381 246h1v1h-1zM354 250h1v1h-1zM386 258h1v1h-1zM414 264h1v1h-1zM377 253h1v1h-1zM435 268h1v1h-1zM367 249h1v1h-1zM371 247h1v1h-1zM353 262h1v1h-1zM392 251h1v1h-1zM437 273h1v1h-1zM339 286h1v1h-1zM403 250h1v1h-1zM377 258h1v1h-1zM354 253h1v1h-1zM340 267h1v1h-1zM356 244h1v1h-1zM494 293h1v1h-1zM448 270h1v1h-1zM340 281h1v1h-1zM372 258h1v1h-1zM408 260h1v1h-1zM357 240h1v1h-1zM345 260h1v1h-1zM403 258h1v1h-1zM342 271h1v1h-1zM339 268h1v1h-1zM380 255h1v1h-1zM367 245h1v1h-1zM502 295h1v1h-1zM377 243h1v1h-1zM482 287h1v1h-1zM358 245h1v1h-1zM355 239h1v1h-1zM365 246h1v1h-1zM382 254h1v1h-1zM472 285h1v1h-1zM387 255h1v1h-1zM511 294h1v1h-1zM409 259h1v1h-1zM466 276h1v1h-1zM376 254h1v1h-1zM401 263h1v1h-1zM410 255h1v1h-1zM412 265h1v1h-1zM373 256h1v1h-1zM449 278h1v1h-1zM390 253h1v1h-1zM511 293h1v1h-1zM342 274h1v1h-1zM341 279h1v1h-1zM395 250h1v1h-1zM444 271h1v1h-1zM493 291h1v1h-1zM379 245h1v1h-1zM354 241h1v1h-1zM359 245h1v1h-1zM355 248h1v1h-1zM433 271h1v1h-1zM350 253h1v1h-1zM351 250h1v1h-1zM443 270h1v1h-1zM360 230h1v1h-1zM344 266h1v1h-1zM423 267h1v1h-1zM478 284h1v1h-1zM358 260h1v1h-1zM373 250h1v1h-1zM379 243h1v1h-1zM347 248h1v1h-1zM465 283h1v1h-1zM443 276h1v1h-1zM475 287h1v1h-1zM432 269h1v1h-1zM382 247h1v1h-1zM486 289h1v1h-1zM389 258h1v1h-1zM386 259h1v1h-1zM510 295h1v1h-1zM398 260h1v1h-1zM366 249h1v1h-1zM427 264h1v1h-1zM356 258h1v1h-1zM409 261h1v1h-1zM408 263h1v1h-1zM352 234h1v1h-1zM351 228h1v1h-1zM343 267h1v1h-1zM355 250h1v1h-1zM346 268h1v1h-1zM474 286h1v1h-1zM487 290h1v1h-1zM451 279h1v1h-1zM350 261h1v1h-1zM346 266h1v1h-1zM344 264h1v1h-1zM368 246h1v1h-1zM510 297h1v1h-1zM356 257h1v1h-1zM381 238h1v1h-1zM481 288h1v1h-1zM452 274h1v1h-1zM349 262h1v1h-1zM385 234h1v1h-1zM341 273h1v1h-1zM373 248h1v1h-1zM365 247h1v1h-1zM369 249h1v1h-1zM369 251h1v1h-1zM348 260h1v1h-1zM343 277h1v1h-1zM474 287h1v1h-1zM392 246h1v1h-1zM398 244h1v1h-1zM337 296h1v1h-1zM358 259h1v1h-1zM428 265h1v1h-1zM507 294h1v1h-1zM396 255h1v1h-1zM358 247h1v1h-1zM377 254h1v1h-1zM384 246h1v1h-1zM367 252h1v1h-1zM347 260h1v1h-1zM401 246h1v1h-1zM476 288h1v1h-1zM360 253h1v1h-1zM338 291h1v1h-1zM373 255h1v1h-1zM380 254h1v1h-1zM423 269h1v1h-1zM494 292h1v1h-1zM436 273h1v1h-1zM403 264h1v1h-1zM367 256h1v1h-1zM378 257h1v1h-1zM361 249h1v1h-1zM374 256h1v1h-1zM341 272h1v1h-1zM443 273h1v1h-1zM375 253h1v1h-1zM400 260h1v1h-1zM367 254h1v1h-1zM477 288h1v1h-1zM396 245h1v1h-1zM477 287h1v1h-1zM476 284h1v1h-1zM356 235h1v1h-1zM419 265h1v1h-1zM349 260h1v1h-1zM496 292h1v1h-1zM369 222h1v1h-1zM339 290h1v1h-1zM343 269h1v1h-1zM354 256h1v1h-1zM346 259h1v1h-1zM488 291h1v1h-1zM356 238h1v1h-1zM338 287h1v1h-1zM351 262h1v1h-1zM449 277h1v1h-1zM462 281h1v1h-1zM380 251h1v1h-1zM341 270h1v1h-1zM457 280h1v1h-1zM382 251h1v1h-1zM386 242h1v1h-1zM423 268h1v1h-1zM471 286h1v1h-1zM366 235h1v1h-1zM345 261h1v1h-1zM351 263h1v1h-1zM385 251h1v1h-1zM352 242h1v1h-1zM474 285h1v1h-1zM401 251h1v1h-1zM346 248h1v1h-1zM350 240h1v1h-1zM467 281h1v1h-1zM368 254h1v1h-1zM347 265h1v1h-1zM413 257h1v1h-1zM382 249h1v1h-1zM370 251h1v1h-1zM362 257h1v1h-1zM449 275h1v1h-1zM484 290h1v1h-1zM362 256h1v1h-1zM373 251h1v1h-1zM394 258h1v1h-1zM356 232h1v1h-1zM398 261h1v1h-1zM466 282h1v1h-1zM340 286h1v1h-1zM429 262h1v1h-1zM344 267h1v1h-1zM375 257h1v1h-1zM460 280h1v1h-1zM419 262h1v1h-1zM352 261h1v1h-1zM458 279h1v1h-1zM424 260h1v1h-1zM348 266h1v1h-1zM369 247h1v1h-1zM386 246h1v1h-1zM454 276h1v1h-1zM365 241h1v1h-1zM505 291h1v1h-1zM375 250h1v1h-1zM352 256h1v1h-1zM361 246h1v1h-1zM339 280h1v1h-1zM448 277h1v1h-1zM446 274h1v1h-1zM492 289h1v1h-1zM375 243h1v1h-1zM338 263h1v1h-1zM350 248h1v1h-1zM339 283h1v1h-1zM359 244h1v1h-1zM359 236h1v1h-1zM348 259h1v1h-1zM457 281h1v1h-1zM355 240h1v1h-1zM344 252h1v1h-1zM362 248h1v1h-1zM377 256h1v1h-1zM365 229h1v1h-1zM360 254h1v1h-1zM441 267h1v1h-1zM365 254h1v1h-1zM396 261h1v1h-1zM386 247h1v1h-1zM461 279h1v1h-1zM344 260h1v1h-1zM406 263h1v1h-1zM359 246h1v1h-1zM398 258h1v1h-1zM381 248h1v1h-1zM350 254h1v1h-1zM477 284h1v1h-1zM341 265h1v1h-1zM353 258h1v1h-1zM513 297h1v1h-1zM350 230h1v1h-1zM367 246h1v1h-1zM488 289h1v1h-1zM368 228h1v1h-1zM386 245h1v1h-1zM416 265h1v1h-1zM344 269h1v1h-1zM436 270h1v1h-1zM404 261h1v1h-1zM375 238h1v1h-1zM338 285h1v1h-1zM485 290h1v1h-1zM355 254h1v1h-1zM381 252h1v1h-1zM504 295h1v1h-1zM348 237h1v1h-1zM338 281h1v1h-1zM413 265h1v1h-1zM343 251h1v1h-1zM357 257h1v1h-1zM452 271h1v1h-1zM437 264h1v1h-1zM342 276h1v1h-1zM451 278h1v1h-1zM391 257h1v1h-1zM360 238h1v1h-1zM471 284h1v1h-1zM341 266h1v1h-1zM393 254h1v1h-1zM339 272h1v1h-1zM423 264h1v1h-1zM443 275h1v1h-1zM500 291h1v1h-1zM357 239h1v1h-1zM450 279h1v1h-1zM369 254h1v1h-1zM442 274h1v1h-1zM483 287h1v1h-1zM388 253h1v1h-1zM363 251h1v1h-1zM455 275h1v1h-1zM458 280h1v1h-1zM374 245h1v1h-1zM370 255h1v1h-1zM372 233h1v1h-1zM383 253h1v1h-1zM345 257h1v1h-1zM350 249h1v1h-1zM439 271h1v1h-1zM416 261h1v1h-1zM498 293h1v1h-1zM365 256h1v1h-1zM381 258h1v1h-1zM363 257h1v1h-1zM418 264h1v1h-1zM351 249h1v1h-1zM362 236h1v1h-1zM391 240h1v1h-1zM355 258h1v1h-1zM412 264h1v1h-1zM341 271h1v1h-1zM481 284h1v1h-1zM454 280h1v1h-1zM433 272h1v1h-1zM458 276h1v1h-1zM351 251h1v1h-1zM401 260h1v1h-1zM502 293h1v1h-1zM445 276h1v1h-1zM380 243h1v1h-1zM346 263h1v1h-1zM455 276h1v1h-1zM442 275h1v1h-1zM368 236h1v1h-1zM512 295h1v1h-1zM363 247h1v1h-1zM360 255h1v1h-1zM386 254h1v1h-1zM486 287h1v1h-1zM378 248h1v1h-1zM426 269h1v1h-1zM401 254h1v1h-1zM347 245h1v1h-1zM405 260h1v1h-1zM365 248h1v1h-1zM476 286h1v1h-1zM431 266h1v1h-1zM447 270h1v1h-1zM356 241h1v1h-1zM368 255h1v1h-1zM446 273h1v1h-1zM425 263h1v1h-1zM409 265h1v1h-1zM345 265h1v1h-1zM477 286h1v1h-1zM420 265h1v1h-1zM464 276h1v1h-1zM364 252h1v1h-1zM374 244h1v1h-1zM365 253h1v1h-1zM369 238h1v1h-1zM450 278h1v1h-1zM435 271h1v1h-1zM380 252h1v1h-1zM441 273h1v1h-1zM454 272h1v1h-1zM364 257h1v1h-1zM342 265h1v1h-1zM374 250h1v1h-1zM355 253h1v1h-1zM384 251h1v1h-1zM473 282h1v1h-1zM340 278h1v1h-1zM341 280h1v1h-1zM360 245h1v1h-1zM345 268h1v1h-1zM452 280h1v1h-1zM352 258h1v1h-1zM505 292h1v1h-1zM347 228h1v1h-1zM374 246h1v1h-1zM366 239h1v1h-1zM387 258h1v1h-1zM392 249h1v1h-1zM402 263h1v1h-1zM432 267h1v1h-1zM366 253h1v1h-1zM396 259h1v1h-1zM491 291h1v1h-1zM434 272h1v1h-1zM389 256h1v1h-1zM357 255h1v1h-1zM358 233h1v1h-1zM341 259h1v1h-1zM454 279h1v1h-1zM375 242h1v1h-1zM428 270h1v1h-1zM397 257h1v1h-1zM338 279h1v1h-1zM398 256h1v1h-1zM507 292h1v1h-1zM386 250h1v1h-1zM346 244h1v1h-1zM407 264h1v1h-1zM479 282h1v1h-1zM395 255h1v1h-1zM374 251h1v1h-1zM356 260h1v1h-1zM346 247h1v1h-1zM385 246h1v1h-1zM349 249h1v1h-1zM376 247h1v1h-1zM388 246h1v1h-1zM369 257h1v1h-1zM350 256h1v1h-1zM455 274h1v1h-1zM359 253h1v1h-1zM375 254h1v1h-1zM479 284h1v1h-1zM346 242h1v1h-1zM362 247h1v1h-1zM367 257h1v1h-1zM347 255h1v1h-1zM409 263h1v1h-1zM387 254h1v1h-1zM344 271h1v1h-1zM342 269h1v1h-1zM347 263h1v1h-1zM343 260h1v1h-1zM391 247h1v1h-1zM450 270h1v1h-1zM387 251h1v1h-1zM338 280h1v1h-1zM349 244h1v1h-1zM496 293h1v1h-1zM411 264h1v1h-1zM390 252h1v1h-1zM390 251h1v1h-1zM444 275h1v1h-1zM367 241h1v1h-1zM395 244h1v1h-1zM384 254h1v1h-1zM366 246h1v1h-1zM383 232h1v1h-1zM378 254h1v1h-1zM418 267h1v1h-1zM424 270h1v1h-1zM359 251h1v1h-1zM346 272h1v1h-1zM374 248h1v1h-1zM378 238h1v1h-1zM371 237h1v1h-1zM419 263h1v1h-1zM361 245h1v1h-1zM339 256h1v1h-1zM449 279h1v1h-1zM396 252h1v1h-1zM373 247h1v1h-1zM345 253h1v1h-1zM368 224h1v1h-1zM349 264h1v1h-1zM443 274h1v1h-1zM508 293h1v1h-1zM366 232h1v1h-1zM404 264h1v1h-1zM421 267h1v1h-1zM375 248h1v1h-1zM339 279h1v1h-1zM513 295h1v1h-1zM432 265h1v1h-1zM379 248h1v1h-1zM373 229h1v1h-1zM350 244h1v1h-1zM374 252h1v1h-1zM403 262h1v1h-1zM432 271h1v1h-1zM357 251h1v1h-1zM421 265h1v1h-1zM357 248h1v1h-1zM370 254h1v1h-1zM354 261h1v1h-1zM342 272h1v1h-1zM370 257h1v1h-1zM457 273h1v1h-1zM355 233h1v1h-1zM405 254h1v1h-1zM359 237h1v1h-1zM342 273h1v1h-1zM437 272h1v1h-1zM403 260h1v1h-1zM512 297h1v1h-1zM494 289h1v1h-1zM482 288h1v1h-1zM426 267h1v1h-1zM350 243h1v1h-1zM394 260h1v1h-1zM353 249h1v1h-1zM372 250h1v1h-1zM469 283h1v1h-1zM490 289h1v1h-1zM366 233h1v1h-1zM346 249h1v1h-1zM346 262h1v1h-1zM430 266h1v1h-1zM377 255h1v1h-1zM452 278h1v1h-1zM395 256h1v1h-1zM385 252h1v1h-1zM463 277h1v1h-1zM354 260h1v1h-1zM350 265h1v1h-1zM361 226h1v1h-1zM384 252h1v1h-1zM417 267h1v1h-1zM361 231h1v1h-1zM377 251h1v1h-1zM363 259h1v1h-1zM370 250h1v1h-1zM404 253h1v1h-1zM343 232h1v1h-1zM389 250h1v1h-1zM391 246h1v1h-1zM455 278h1v1h-1zM370 248h1v1h-1zM425 270h1v1h-1zM360 250h1v1h-1zM404 259h1v1h-1zM346 271h1v1h-1zM349 254h1v1h-1zM339 285h1v1h-1zM338 290h1v1h-1zM341 277h1v1h-1zM345 266h1v1h-1zM365 252h1v1h-1zM383 246h1v1h-1zM360 256h1v1h-1zM345 249h1v1h-1zM379 244h1v1h-1zM342 261h1v1h-1zM436 271h1v1h-1zM366 240h1v1h-1zM351 256h1v1h-1zM368 253h1v1h-1zM468 284h1v1h-1zM389 253h1v1h-1zM382 243h1v1h-1zM379 246h1v1h-1zM439 269h1v1h-1zM340 277h1v1h-1zM352 254h1v1h-1zM339 275h1v1h-1zM363 250h1v1h-1zM387 241h1v1h-1zM361 253h1v1h-1zM392 256h1v1h-1zM344 253h1v1h-1zM465 281h1v1h-1zM344 259h1v1h-1zM378 256h1v1h-1zM343 268h1v1h-1zM426 258h1v1h-1zM376 239h1v1h-1zM378 249h1v1h-1zM459 276h1v1h-1zM433 264h1v1h-1zM410 258h1v1h-1zM399 260h1v1h-1zM340 250h1v1h-1zM342 275h1v1h-1zM362 239h1v1h-1zM416 259h1v1h-1zM487 291h1v1h-1zM364 232h1v1h-1zM390 248h1v1h-1zM339 271h1v1h-1zM352 245h1v1h-1zM410 265h1v1h-1zM389 259h1v1h-1zM343 276h1v1h-1zM341 240h1v1h-1zM378 252h1v1h-1zM371 236h1v1h-1zM464 278h1v1h-1zM355 255h1v1h-1zM368 245h1v1h-1zM499 292h1v1h-1zM390 260h1v1h-1zM342 259h1v1h-1zM419 266h1v1h-1zM415 265h1v1h-1zM386 239h1v1h-1zM341 254h1v1h-1zM346 257h1v1h-1zM417 263h1v1h-1zM345 259h1v1h-1zM459 277h1v1h-1zM344 270h1v1h-1zM357 261h1v1h-1zM500 293h1v1h-1zM364 256h1v1h-1zM383 249h1v1h-1zM385 249h1v1h-1zM386 255h1v1h-1zM359 258h1v1h-1zM455 277h1v1h-1zM402 261h1v1h-1zM342 278h1v1h-1zM383 251h1v1h-1zM362 224h1v1h-1zM450 274h1v1h-1zM353 233h1v1h-1zM392 257h1v1h-1zM353 247h1v1h-1zM489 288h1v1h-1zM343 255h1v1h-1zM429 267h1v1h-1zM412 261h1v1h-1zM434 270h1v1h-1zM348 250h1v1h-1zM368 256h1v1h-1zM417 268h1v1h-1zM370 239h1v1h-1zM370 244h1v1h-1zM364 228h1v1h-1zM344 255h1v1h-1zM370 253h1v1h-1zM346 252h1v1h-1zM446 277h1v1h-1zM501 295h1v1h-1zM339 287h1v1h-1zM430 270h1v1h-1zM400 259h1v1h-1zM407 250h1v1h-1zM369 253h1v1h-1zM337 286h1v1h-1zM398 257h1v1h-1zM395 260h1v1h-1zM372 252h1v1h-1zM392 255h1v1h-1zM397 260h1v1h-1zM398 248h1v1h-1zM355 251h1v1h-1zM374 240h1v1h-1zM345 236h1v1h-1zM482 286h1v1h-1zM352 262h1v1h-1zM346 261h1v1h-1zM385 244h1v1h-1zM487 289h1v1h-1zM356 237h1v1h-1zM337 297h1v1h-1zM347 252h1v1h-1zM394 259h1v1h-1zM498 294h1v1h-1zM356 234h1v1h-1zM372 256h1v1h-1zM447 276h1v1h-1zM346 267h1v1h-1zM488 290h1v1h-1zM411 262h1v1h-1zM381 243h1v1h-1zM442 273h1v1h-1zM427 268h1v1h-1zM376 245h1v1h-1zM340 255h1v1h-1zM360 251h1v1h-1zM380 246h1v1h-1zM424 265h1v1h-1zM338 292h1v1h-1zM406 262h1v1h-1zM347 241h1v1h-1zM380 249h1v1h-1zM374 235h1v1h-1zM362 245h1v1h-1zM377 244h1v1h-1zM412 263h1v1h-1zM387 257h1v1h-1zM370 252h1v1h-1zM360 241h1v1h-1zM480 289h1v1h-1zM475 288h1v1h-1zM354 243h1v1h-1zM410 264h1v1h-1zM389 251h1v1h-1zM408 262h1v1h-1zM471 279h1v1h-1zM345 258h1v1h-1zM381 251h1v1h-1zM345 227h1v1h-1zM358 249h1v1h-1zM413 254h1v1h-1zM413 256h1v1h-1zM431 269h1v1h-1zM377 246h1v1h-1zM375 246h1v1h-1zM395 243h1v1h-1zM390 256h1v1h-1zM350 266h1v1h-1zM352 230h1v1h-1zM352 243h1v1h-1zM361 227h1v1h-1zM420 263h1v1h-1zM481 286h1v1h-1zM347 264h1v1h-1zM364 254h1v1h-1zM442 272h1v1h-1zM343 242h1v1h-1zM358 239h1v1h-1zM422 267h1v1h-1zM427 271h1v1h-1zM486 291h1v1h-1zM393 248h1v1h-1zM352 223h1v1h-1zM381 247h1v1h-1zM359 239h1v1h-1zM459 274h1v1h-1zM355 262h1v1h-1zM495 293h1v1h-1zM492 290h1v1h-1zM421 261h1v1h-1zM431 272h1v1h-1zM350 245h1v1h-1zM472 284h1v1h-1zM366 254h1v1h-1zM339 278h1v1h-1zM345 273h1v1h-1zM350 246h1v1h-1zM405 262h1v1h-1zM369 252h1v1h-1zM338 286h1v1h-1zM393 258h1v1h-1zM347 267h1v1h-1zM473 286h1v1h-1zM338 283h1v1h-1zM411 257h1v1h-1zM391 249h1v1h-1zM466 284h1v1h-1zM403 259h1v1h-1zM389 244h1v1h-1zM363 248h1v1h-1zM385 247h1v1h-1zM365 250h1v1h-1zM345 240h1v1h-1zM496 287h1v1h-1zM508 291h1v1h-1zM344 236h1v1h-1zM356 252h1v1h-1zM383 244h1v1h-1zM416 268h1v1h-1zM433 273h1v1h-1zM342 257h1v1h-1zM353 245h1v1h-1zM364 244h1v1h-1zM405 259h1v1h-1zM353 255h1v1h-1zM368 251h1v1h-1zM349 233h1v1h-1zM390 254h1v1h-1zM349 248h1v1h-1zM367 250h1v1h-1zM385 245h1v1h-1zM346 258h1v1h-1zM350 247h1v1h-1zM352 248h1v1h-1zM341 282h1v1h-1zM426 266h1v1h-1zM358 241h1v1h-1zM368 258h1v1h-1zM362 242h1v1h-1zM349 232h1v1h-1zM368 237h1v1h-1zM456 273h1v1h-1zM360 258h1v1h-1zM406 255h1v1h-1zM387 248h1v1h-1zM442 271h1v1h-1zM392 239h1v1h-1zM382 256h1v1h-1zM362 237h1v1h-1zM341 281h1v1h-1zM372 257h1v1h-1zM365 230h1v1h-1zM372 248h1v1h-1zM441 275h1v1h-1zM446 275h1v1h-1zM353 235h1v1h-1zM353 234h1v1h-1zM339 276h1v1h-1zM361 244h1v1h-1zM388 258h1v1h-1zM451 275h1v1h-1zM481 287h1v1h-1zM358 256h1v1h-1zM348 242h1v1h-1zM355 237h1v1h-1zM348 227h1v1h-1zM346 251h1v1h-1zM346 255h1v1h-1zM349 247h1v1h-1zM377 245h1v1h-1zM400 251h1v1h-1zM490 292h1v1h-1zM352 227h1v1h-1zM499 294h1v1h-1zM382 248h1v1h-1zM370 246h1v1h-1zM360 244h1v1h-1zM475 282h1v1h-1zM423 258h1v1h-1zM400 246h1v1h-1zM460 279h1v1h-1zM391 251h1v1h-1zM354 242h1v1h-1zM461 281h1v1h-1zM342 263h1v1h-1zM348 233h1v1h-1zM375 249h1v1h-1zM510 292h1v1h-1zM382 245h1v1h-1zM349 263h1v1h-1zM374 232h1v1h-1zM440 276h1v1h-1zM365 220h1v1h-1zM393 255h1v1h-1zM361 223h1v1h-1zM376 252h1v1h-1zM339 260h1v1h-1zM511 291h1v1h-1zM347 235h1v1h-1zM356 239h1v1h-1zM430 264h1v1h-1zM366 248h1v1h-1zM346 241h1v1h-1zM420 267h1v1h-1zM433 269h1v1h-1zM393 250h1v1h-1zM460 275h1v1h-1zM350 260h1v1h-1zM491 289h1v1h-1zM414 263h1v1h-1zM344 262h1v1h-1zM434 264h1v1h-1zM506 294h1v1h-1zM339 291h1v1h-1zM366 252h1v1h-1zM390 247h1v1h-1zM394 253h1v1h-1zM340 270h1v1h-1zM349 227h1v1h-1zM360 236h1v1h-1zM394 257h1v1h-1zM345 263h1v1h-1zM438 275h1v1h-1zM357 243h1v1h-1zM419 261h1v1h-1zM401 253h1v1h-1zM345 252h1v1h-1zM471 285h1v1h-1zM354 246h1v1h-1zM432 266h1v1h-1zM360 237h1v1h-1zM338 289h1v1h-1zM343 266h1v1h-1zM369 236h1v1h-1zM340 259h1v1h-1zM399 255h1v1h-1zM381 239h1v1h-1zM474 284h1v1h-1zM448 274h1v1h-1zM384 234h1v1h-1zM352 238h1v1h-1zM353 253h1v1h-1zM447 273h1v1h-1zM341 278h1v1h-1zM461 280h1v1h-1zM468 282h1v1h-1zM347 240h1v1h-1zM444 274h1v1h-1zM340 272h1v1h-1zM379 241h1v1h-1zM430 272h1v1h-1zM350 263h1v1h-1zM350 255h1v1h-1zM494 286h1v1h-1zM338 294h1v1h-1zM369 230h1v1h-1zM428 269h1v1h-1zM462 279h1v1h-1zM440 272h1v1h-1zM404 255h1v1h-1zM410 260h1v1h-1zM495 290h1v1h-1zM429 269h1v1h-1zM448 276h1v1h-1zM341 269h1v1h-1zM406 259h1v1h-1zM440 273h1v1h-1zM354 252h1v1h-1zM435 265h1v1h-1zM352 241h1v1h-1zM347 259h1v1h-1zM340 269h1v1h-1zM364 248h1v1h-1zM384 244h1v1h-1zM358 236h1v1h-1zM398 255h1v1h-1zM393 245h1v1h-1zM407 262h1v1h-1zM351 246h1v1h-1zM396 249h1v1h-1zM379 234h1v1h-1zM413 258h1v1h-1zM364 245h1v1h-1zM473 284h1v1h-1zM342 250h1v1h-1zM411 263h1v1h-1zM351 237h1v1h-1zM509 292h1v1h-1zM351 235h1v1h-1zM344 275h1v1h-1zM384 248h1v1h-1zM461 277h1v1h-1zM351 259h1v1h-1zM347 262h1v1h-1zM424 259h1v1h-1zM411 259h1v1h-1zM375 251h1v1h-1zM405 261h1v1h-1zM367 238h1v1h-1zM419 264h1v1h-1zM354 244h1v1h-1zM410 256h1v1h-1zM483 288h1v1h-1zM358 248h1v1h-1zM415 263h1v1h-1zM362 233h1v1h-1zM398 259h1v1h-1zM367 233h1v1h-1zM451 274h1v1h-1zM460 281h1v1h-1zM416 258h1v1h-1zM390 246h1v1h-1zM372 232h1v1h-1zM445 269h1v1h-1zM353 260h1v1h-1zM338 282h1v1h-1zM385 238h1v1h-1zM429 265h1v1h-1zM345 264h1v1h-1zM399 253h1v1h-1zM424 266h1v1h-1zM348 261h1v1h-1zM425 261h1v1h-1zM435 267h1v1h-1zM453 276h1v1h-1zM461 275h1v1h-1zM345 255h1v1h-1zM348 255h1v1h-1zM363 254h1v1h-1zM356 231h1v1h-1zM428 266h1v1h-1zM414 262h1v1h-1zM378 244h1v1h-1zM503 291h1v1h-1zM366 244h1v1h-1zM436 267h1v1h-1zM403 261h1v1h-1zM338 264h1v1h-1zM349 257h1v1h-1zM364 236h1v1h-1zM340 265h1v1h-1zM435 269h1v1h-1zM476 283h1v1h-1zM441 276h1v1h-1zM482 283h1v1h-1zM354 235h1v1h-1zM402 246h1v1h-1zM341 248h1v1h-1zM339 269h1v1h-1zM362 253h1v1h-1zM359 252h1v1h-1zM351 258h1v1h-1zM505 295h1v1h-1zM344 235h1v1h-1zM358 254h1v1h-1zM504 296h1v1h-1zM342 280h1v1h-1zM348 252h1v1h-1zM414 257h1v1h-1zM418 258h1v1h-1zM342 246h1v1h-1zM445 273h1v1h-1zM354 251h1v1h-1zM338 265h1v1h-1zM409 260h1v1h-1zM337 292h1v1h-1zM341 253h1v1h-1zM345 245h1v1h-1zM333 352h1v1h-1zM334 336h1v1h-1zM333 342h1v1h-1zM336 284h1v1h-1zM334 335h1v1h-1zM336 296h1v1h-1zM334 297h1v1h-1zM332 350h1v1h-1zM334 339h1v1h-1zM337 301h1v1h-1zM336 322h1v1h-1zM332 347h1v1h-1zM334 343h1v1h-1zM336 311h1v1h-1zM334 311h1v1h-1zM340 268h1v1h-1zM335 313h1v1h-1zM337 313h1v1h-1zM333 321h1v1h-1zM334 340h1v1h-1zM335 332h1v1h-1zM334 328h1v1h-1zM337 284h1v1h-1zM338 302h1v1h-1zM334 331h1v1h-1zM340 275h1v1h-1zM334 326h1v1h-1zM340 263h1v1h-1zM332 354h1v1h-1zM328 349h1v1h-1zM341 263h1v1h-1zM334 345h1v1h-1zM334 333h1v1h-1zM336 305h1v1h-1zM339 266h1v1h-1zM337 300h1v1h-1zM336 320h1v1h-1zM338 288h1v1h-1zM333 315h1v1h-1zM335 326h1v1h-1zM338 262h1v1h-1zM336 312h1v1h-1zM335 301h1v1h-1zM335 321h1v1h-1zM334 306h1v1h-1zM330 339h1v1h-1zM336 309h1v1h-1zM337 276h1v1h-1zM334 315h1v1h-1zM341 261h1v1h-1zM336 283h1v1h-1zM334 319h1v1h-1zM336 315h1v1h-1zM336 310h1v1h-1zM335 309h1v1h-1zM332 312h1v1h-1zM334 327h1v1h-1zM336 314h1v1h-1zM338 299h1v1h-1zM336 271h1v1h-1zM331 353h1v1h-1zM332 340h1v1h-1zM336 302h1v1h-1zM330 349h1v1h-1zM334 314h1v1h-1zM333 348h1v1h-1zM335 316h1v1h-1zM341 264h1v1h-1zM330 348h1v1h-1zM331 287h1v1h-1zM336 297h1v1h-1zM337 305h1v1h-1zM332 349h1v1h-1zM337 306h1v1h-1zM331 342h1v1h-1zM335 320h1v1h-1zM337 304h1v1h-1zM335 318h1v1h-1zM334 342h1v1h-1zM339 264h1v1h-1zM336 313h1v1h-1zM337 298h1v1h-1zM340 271h1v1h-1zM332 328h1v1h-1zM334 318h1v1h-1zM333 355h1v1h-1zM340 266h1v1h-1zM338 296h1v1h-1zM339 273h1v1h-1zM333 346h1v1h-1zM332 344h1v1h-1zM334 332h1v1h-1zM336 321h1v1h-1zM335 329h1v1h-1zM333 335h1v1h-1zM333 343h1v1h-1zM335 284h1v1h-1zM332 280h1v1h-1zM336 270h1v1h-1zM336 319h1v1h-1zM339 261h1v1h-1zM335 286h1v1h-1zM338 267h1v1h-1zM331 339h1v1h-1zM337 309h1v1h-1zM332 332h1v1h-1zM337 282h1v1h-1zM334 304h1v1h-1zM332 341h1v1h-1zM337 265h1v1h-1zM336 299h1v1h-1zM339 215h1v1h-1zM350 210h1v1h-1zM353 213h1v1h-1zM360 222h1v1h-1zM361 222h1v1h-1zM367 220h1v1h-1zM370 219h1v1h-1zM371 226h1v1h-1zM342 228h1v1h-1zM346 229h1v1h-1zM349 229h1v1h-1zM353 228h1v1h-1zM356 230h1v1h-1zM362 229h1v1h-1zM345 232h1v1h-1zM357 235h1v1h-1zM368 234h1v1h-1zM373 234h1v1h-1zM376 233h1v1h-1zM377 236h1v1h-1zM385 236h1v1h-1zM341 239h1v1h-1zM345 241h1v1h-1zM389 242h1v1h-1zM397 247h1v1h-1zM408 249h1v1h-1zM409 254h1v1h-1zM335 269h1v1h-1zM333 278h1v1h-1zM335 298h1v1h-1z"/>
<rect x="320.50" y="205.80" width="214.50" height="159.80" fill="none" stroke="#1a1a1a" stroke-width="0.95"/>
<path d="M330.71 365.60v2.3M320.50 357.99h-2.3M371.57 365.60v2.3M320.50 327.55h-2.3M412.43 365.60v2.3M320.50 297.11h-2.3M453.29 365.60v2.3M320.50 266.68h-2.3M494.14 365.60v2.3M320.50 236.24h-2.3M535.00 365.60v2.3M320.50 205.80h-2.3" stroke="#1a1a1a" stroke-width="0.75" fill="none"/>
<g font-family="DejaVu Sans, Liberation Sans, sans-serif" font-size="9.1" letter-spacing="-0.12" fill="#161616" stroke="#161616" stroke-width="0.18"><text x="330.7" y="376.9" text-anchor="middle">0.0</text><text x="316.5" y="361.6" text-anchor="end">0.0</text><text x="371.6" y="376.9" text-anchor="middle">0.2</text><text x="316.5" y="331.2" text-anchor="end">0.2</text><text x="412.4" y="376.9" text-anchor="middle">0.4</text><text x="316.5" y="300.7" text-anchor="end">0.4</text><text x="453.3" y="376.9" text-anchor="middle">0.6</text><text x="316.5" y="270.3" text-anchor="end">0.6</text><text x="494.1" y="376.9" text-anchor="middle">0.8</text><text x="316.5" y="239.8" text-anchor="end">0.8</text><text x="535.0" y="376.9" text-anchor="middle">1.0</text><text x="316.5" y="209.4" text-anchor="end">1.0</text></g>
<text x="512.1" y="236.1" text-anchor="middle" font-family="Liberation Serif, DejaVu Serif, serif" font-weight="bold" font-size="14" fill="#111">(d)</text>
<g transform="translate(412.7 390.2)" font-family="Liberation Serif, DejaVu Serif, serif" font-size="14.2" fill="#262626"><text x="0.0" y="0.0" font-style="italic">I</text><text transform="translate(5.6 0.8) scale(1.00 1.11)" font-size="15.2">(</text><text x="11.3" y="0.0" font-style="italic">ρ</text><text transform="translate(18.2 3.6) scale(1.36 1.00)" font-style="italic" font-size="9.8">AB</text><text transform="translate(35.8 0.8) scale(1.00 1.11)" font-size="15.2">)</text></g>
<g transform="translate(295.1 311.6) rotate(-90)" font-family="Liberation Serif, DejaVu Serif, serif" font-size="14.2" fill="#262626"><text x="0.0" y="0.0" font-style="italic">I</text><text x="4.3" y="3.1" font-style="italic" font-size="10.0">α</text><text transform="translate(9.9 3.1) scale(1.70 1.00)" font-size="10.0">=</text><text x="18.8" y="3.1" font-size="10.0">2</text><text transform="translate(25.3 -0.3) scale(1.00 1.11)" font-size="15.2">(</text><text x="31.0" y="0.0" font-style="italic">ρ</text><text transform="translate(37.9 3.6) scale(1.36 1.00)" font-style="italic" font-size="9.8">AB</text><text transform="translate(55.5 -0.3) scale(1.00 1.11)" font-size="15.2">)</text></g>
</g>
<g id="ax-e">
<polygon fill="#00ffff" points="54.5,550.4 53.7,550.1 53.8,548.6 53.9,548.2 54.8,546.4 54.6,545.6 54.1,544.3 54.9,543.3 54.4,542.7 54.8,541.6 55.3,540.4 54.8,539.3 54.6,538.8 54.8,537.5 54.6,536.3 55.3,536.3 55.4,534.6 55.8,533.5 55.9,532.2 55.5,532.2 55.5,530.7 55.6,529.2 55.8,528.6 56.3,527.3 55.5,527.2 55.7,526.2 56.3,524.7 55.9,523.7 56.5,522.1 56.8,521.8 57.0,520.7 57.2,520.0 56.6,519.1 56.7,517.6 56.7,516.6 56.5,515.8 56.8,514.2 57.5,513.8 57.4,512.3 57.9,511.1 57.1,510.6 57.4,509.6 58.3,509.2 57.6,507.4 57.8,506.5 57.6,505.9 57.7,504.6 57.8,504.1 58.2,502.2 58.8,501.4 58.3,500.6 58.4,499.7 58.4,498.4 59.0,497.6 58.5,496.8 59.3,495.9 59.1,494.7 59.1,494.2 59.3,493.0 59.7,491.6 59.3,490.6 60.3,489.5 59.8,488.6 60.8,488.2 61.1,486.3 60.7,485.9 61.0,484.5 62.0,484.3 62.2,483.0 62.1,481.4 62.2,480.4 62.7,479.3 63.4,478.6 63.2,478.2 63.7,476.9 63.2,476.2 64.2,474.0 64.6,474.1 64.9,472.5 65.4,471.9 66.2,470.3 66.0,468.8 66.6,468.7 67.2,467.5 68.5,466.4 68.6,465.6 69.7,464.4 70.0,463.6 70.0,462.3 71.5,461.7 71.9,460.8 73.0,460.7 72.8,459.4 74.0,458.8 75.1,458.5 76.2,457.2 76.4,456.9 78.1,456.1 79.3,455.6 79.4,455.4 81.4,454.8 81.5,454.1 83.0,453.7 83.4,454.6 85.0,453.8 86.1,454.2 86.3,453.9 87.3,453.8 88.9,453.6 90.4,452.8 90.3,452.4 92.0,452.9 93.4,452.1 93.3,452.6 94.9,453.0 95.7,452.2 97.0,453.3 98.2,453.0 98.4,452.8 99.3,452.9 101.2,453.2 101.7,452.7 103.3,453.3 103.8,453.5 104.3,453.7 105.9,453.9 106.4,453.8 107.4,454.3 108.4,453.7 109.4,454.3 110.5,454.4 112.3,454.5 112.2,454.6 114.3,454.7 114.4,455.1 115.9,456.2 117.1,455.9 117.6,457.1 119.1,456.9 119.3,456.9 120.2,456.9 121.6,457.3 122.8,458.2 123.3,458.4 124.2,458.3 125.3,459.1 126.9,459.7 127.9,459.7 129.3,460.2 130.2,460.2 130.9,460.8 132.0,460.4 132.9,461.5 134.1,460.8 135.0,462.1 135.6,461.8 136.4,462.8 138.1,462.1 138.7,462.9 139.9,462.8 140.8,463.5 142.2,463.6 143.3,463.5 144.2,464.1 145.0,464.4 146.1,464.3 146.8,465.1 147.3,465.2 149.1,465.0 150.3,466.2 150.3,466.8 151.4,466.2 153.3,467.5 153.8,467.1 154.6,467.4 156.2,467.8 156.6,468.8 158.0,468.9 158.9,469.0 160.3,469.1 160.6,470.4 161.2,470.5 162.8,471.0 164.3,470.6 164.4,471.9 165.9,471.3 166.3,471.8 167.5,473.0 168.4,473.3 169.7,473.5 171.1,473.9 172.2,474.4 173.0,474.8 173.7,474.5 174.3,475.2 175.4,475.0 176.8,474.9 178.1,475.5 179.2,476.4 179.3,475.7 180.9,477.1 182.2,476.7 183.2,476.7 184.1,477.0 184.5,477.6 185.9,478.5 186.4,478.0 187.3,478.4 188.7,479.7 189.8,479.2 190.7,480.1 192.1,480.3 192.4,480.7 194.2,481.6 194.3,481.3 195.3,482.4 196.2,482.7 198.0,483.3 198.3,483.1 199.5,483.5 200.6,483.0 201.2,483.4 202.8,483.7 203.4,484.6 204.5,484.3 206.2,485.0 206.8,485.3 208.0,485.6 209.0,486.3 209.3,486.3 211.2,487.1 211.5,486.3 212.6,487.1 213.5,486.9 215.1,487.1 215.8,487.5 217.4,488.3 217.9,488.4 218.4,489.1 219.3,488.7 221.2,489.4 221.6,489.2 222.5,490.2 223.6,490.0 225.3,490.7 225.5,490.2 226.3,490.4 227.3,491.5 228.9,491.2 229.8,491.1 230.3,491.2 231.3,491.5 233.0,492.1 234.0,491.9 234.8,492.0 236.4,492.4 235.3,492.3 235.1,492.4 234.4,493.1 232.2,493.3 231.8,492.5 231.0,493.0 230.2,493.3 229.2,493.6 227.8,494.1 227.3,494.0 225.3,494.7 224.5,494.4 223.8,494.0 223.4,494.3 222.3,495.3 221.0,495.6 219.9,494.9 218.7,495.7 217.9,496.2 217.3,496.4 216.1,496.9 214.4,496.0 213.5,496.4 212.8,496.4 211.8,496.9 210.5,497.3 210.0,497.7 209.0,497.5 207.5,498.2 206.5,498.8 205.2,498.7 204.6,498.3 203.7,499.0 203.3,499.0 201.6,499.3 200.9,500.1 200.0,500.6 198.7,500.4 198.3,501.0 196.6,500.7 196.1,501.0 194.6,501.7 193.9,502.4 192.5,501.7 192.0,502.6 190.2,502.8 189.7,503.2 188.5,503.4 188.2,503.8 186.8,503.8 185.6,504.2 184.5,505.3 184.0,505.7 183.0,505.4 182.0,505.9 180.7,506.4 180.1,506.4 178.7,507.5 178.4,507.8 176.6,508.1 175.7,508.4 175.3,508.9 174.6,510.0 172.9,510.2 171.8,509.8 171.9,511.1 170.3,510.8 169.9,512.1 169.1,511.8 167.4,513.2 166.9,513.4 166.3,514.1 164.7,514.6 163.9,514.9 162.7,515.2 162.0,515.8 161.5,516.2 160.4,516.3 159.3,516.3 158.4,517.7 157.2,517.9 156.5,518.3 155.4,518.6 154.7,519.6 154.2,520.1 152.5,519.4 151.7,520.9 151.2,520.8 149.8,521.1 149.1,521.3 147.5,522.3 147.3,521.8 145.3,523.1 144.8,522.2 143.8,522.5 143.0,522.9 142.3,523.0 140.9,523.4 139.8,523.7 139.1,523.9 137.2,524.2 136.2,524.4 136.2,525.2 134.6,525.1 133.7,525.1 133.0,526.2 131.6,526.5 131.2,526.2 130.3,526.1 129.2,526.5 127.5,527.2 126.2,527.3 125.2,527.5 125.2,528.1 123.5,528.7 122.4,528.4 121.3,529.6 120.3,530.1 120.3,530.5 118.2,530.0 117.8,531.1 116.3,530.7 115.2,531.2 115.4,532.4 114.1,532.8 112.6,532.5 111.4,533.1 110.5,533.2 109.7,534.5 109.1,534.5 108.0,535.4 107.3,535.0 106.2,536.5 105.2,536.6 104.0,536.3 103.9,537.1 102.3,537.6 102.3,538.9 101.1,538.5 100.0,539.3 98.7,539.6 97.9,539.6 96.3,540.2 96.4,540.3 95.2,540.8 94.4,541.8 92.9,541.7 92.2,542.1 90.3,543.1 89.2,542.7 88.9,543.3 87.3,543.2 87.0,544.1 85.7,544.0 84.7,545.0 83.9,545.3 83.4,545.2 82.1,545.7 80.7,545.1 79.8,545.4 78.9,545.7 77.6,546.4 76.4,546.8 76.0,546.9 74.8,546.7 73.4,547.4 72.7,547.6 71.9,547.1 71.2,548.1 69.4,548.3 69.3,548.2 67.4,547.8 66.6,548.7 65.5,548.5 65.1,548.2 63.6,548.6 62.4,549.2 62.0,549.7 61.3,549.2 59.1,549.9 58.3,549.4 57.6,550.0 56.7,550.0 55.4,550.1 54.1,551.0"/>
<path fill="#00ffff" d="M115 451h1v1h-1zM71 457h1v1h-1zM69 465h1v1h-1zM135 462h1v1h-1zM80 446h1v1h-1zM67 465h1v1h-1zM84 451h1v1h-1zM69 461h1v1h-1zM101 448h1v1h-1zM79 442h1v1h-1zM85 454h1v1h-1zM176 473h1v1h-1zM62 478h1v1h-1zM79 441h1v1h-1zM81 450h1v1h-1zM212 487h1v1h-1zM107 452h1v1h-1zM85 452h1v1h-1zM99 447h1v1h-1zM105 451h1v1h-1zM178 471h1v1h-1zM129 457h1v1h-1zM87 454h1v1h-1zM76 458h1v1h-1zM85 450h1v1h-1zM123 450h1v1h-1zM144 465h1v1h-1zM119 449h1v1h-1zM87 426h1v1h-1zM152 465h1v1h-1zM63 433h1v1h-1zM104 453h1v1h-1zM63 472h1v1h-1zM97 452h1v1h-1zM94 435h1v1h-1zM73 433h1v1h-1zM143 460h1v1h-1zM186 479h1v1h-1zM201 481h1v1h-1zM81 420h1v1h-1zM96 451h1v1h-1zM101 451h1v1h-1zM132 452h1v1h-1zM151 465h1v1h-1zM91 440h1v1h-1zM89 442h1v1h-1zM197 482h1v1h-1zM102 444h1v1h-1zM83 449h1v1h-1zM71 461h1v1h-1zM118 456h1v1h-1zM186 477h1v1h-1zM136 461h1v1h-1zM77 457h1v1h-1zM81 431h1v1h-1zM74 446h1v1h-1zM133 452h1v1h-1zM73 459h1v1h-1zM81 453h1v1h-1zM78 457h1v1h-1zM94 450h1v1h-1zM147 464h1v1h-1zM62 483h1v1h-1zM92 430h1v1h-1zM77 451h1v1h-1zM68 465h1v1h-1zM87 437h1v1h-1zM108 453h1v1h-1zM139 462h1v1h-1zM113 456h1v1h-1zM59 491h1v1h-1zM129 461h1v1h-1zM112 451h1v1h-1zM85 445h1v1h-1zM66 443h1v1h-1zM202 483h1v1h-1zM99 452h1v1h-1zM122 450h1v1h-1zM145 460h1v1h-1zM70 460h1v1h-1zM71 447h1v1h-1zM72 458h1v1h-1zM159 470h1v1h-1zM224 490h1v1h-1zM138 462h1v1h-1zM161 469h1v1h-1zM226 489h1v1h-1zM63 471h1v1h-1zM83 451h1v1h-1zM207 484h1v1h-1zM206 481h1v1h-1zM109 452h1v1h-1zM107 454h1v1h-1zM105 453h1v1h-1zM185 476h1v1h-1zM67 466h1v1h-1zM88 452h1v1h-1zM83 454h1v1h-1zM119 456h1v1h-1zM229 491h1v1h-1zM212 488h1v1h-1zM102 453h1v1h-1zM65 468h1v1h-1zM112 454h1v1h-1zM78 449h1v1h-1zM98 453h1v1h-1zM112 437h1v1h-1zM142 464h1v1h-1zM113 452h1v1h-1zM64 467h1v1h-1zM147 455h1v1h-1zM99 443h1v1h-1zM146 465h1v1h-1zM128 445h1v1h-1zM116 443h1v1h-1zM190 478h1v1h-1zM117 457h1v1h-1zM108 435h1v1h-1zM95 440h1v1h-1zM67 462h1v1h-1zM64 456h1v1h-1zM194 482h1v1h-1zM69 460h1v1h-1zM118 442h1v1h-1zM107 446h1v1h-1zM225 491h1v1h-1zM103 449h1v1h-1zM115 448h1v1h-1zM72 445h1v1h-1zM73 452h1v1h-1zM100 447h1v1h-1zM80 453h1v1h-1zM148 461h1v1h-1zM76 440h1v1h-1zM65 469h1v1h-1zM138 458h1v1h-1zM225 490h1v1h-1zM123 458h1v1h-1zM60 476h1v1h-1zM91 451h1v1h-1zM69 458h1v1h-1zM131 460h1v1h-1zM140 464h1v1h-1zM219 488h1v1h-1zM84 448h1v1h-1zM222 489h1v1h-1zM93 430h1v1h-1zM68 461h1v1h-1zM97 448h1v1h-1zM126 459h1v1h-1zM66 454h1v1h-1zM65 470h1v1h-1zM62 472h1v1h-1zM90 452h1v1h-1zM81 454h1v1h-1zM149 464h1v1h-1zM223 490h1v1h-1zM192 477h1v1h-1zM84 430h1v1h-1zM95 448h1v1h-1zM115 455h1v1h-1zM79 446h1v1h-1zM136 458h1v1h-1zM85 449h1v1h-1zM82 445h1v1h-1zM62 475h1v1h-1zM77 455h1v1h-1zM94 448h1v1h-1zM101 453h1v1h-1zM105 447h1v1h-1zM66 463h1v1h-1zM100 443h1v1h-1zM60 458h1v1h-1zM83 446h1v1h-1zM185 475h1v1h-1zM98 452h1v1h-1zM65 455h1v1h-1zM214 488h1v1h-1zM116 445h1v1h-1zM96 453h1v1h-1zM63 447h1v1h-1zM119 458h1v1h-1zM66 458h1v1h-1zM70 458h1v1h-1zM216 485h1v1h-1zM77 456h1v1h-1zM64 454h1v1h-1zM76 443h1v1h-1zM94 449h1v1h-1zM62 477h1v1h-1zM167 472h1v1h-1zM153 462h1v1h-1zM74 457h1v1h-1zM59 487h1v1h-1zM146 463h1v1h-1zM73 447h1v1h-1zM74 459h1v1h-1zM95 435h1v1h-1zM116 447h1v1h-1zM88 441h1v1h-1zM92 443h1v1h-1zM86 451h1v1h-1zM150 466h1v1h-1zM187 472h1v1h-1zM76 414h1v1h-1zM135 459h1v1h-1zM77 452h1v1h-1zM64 455h1v1h-1zM83 450h1v1h-1zM169 473h1v1h-1zM230 491h1v1h-1zM76 450h1v1h-1zM193 473h1v1h-1zM121 457h1v1h-1zM129 458h1v1h-1zM120 457h1v1h-1zM151 463h1v1h-1zM127 460h1v1h-1zM158 460h1v1h-1zM155 464h1v1h-1zM106 452h1v1h-1zM134 462h1v1h-1zM102 449h1v1h-1zM68 438h1v1h-1zM197 480h1v1h-1zM170 474h1v1h-1zM119 447h1v1h-1zM145 463h1v1h-1zM228 490h1v1h-1zM171 472h1v1h-1zM217 487h1v1h-1zM106 431h1v1h-1zM117 455h1v1h-1zM197 481h1v1h-1zM67 468h1v1h-1zM76 457h1v1h-1zM112 453h1v1h-1zM223 489h1v1h-1zM65 451h1v1h-1zM137 461h1v1h-1zM131 457h1v1h-1zM229 489h1v1h-1zM81 443h1v1h-1zM91 441h1v1h-1zM187 477h1v1h-1zM60 477h1v1h-1zM203 484h1v1h-1zM187 475h1v1h-1zM144 464h1v1h-1zM178 473h1v1h-1zM66 450h1v1h-1zM73 442h1v1h-1zM140 463h1v1h-1zM139 458h1v1h-1zM92 452h1v1h-1zM150 467h1v1h-1zM77 441h1v1h-1zM86 450h1v1h-1zM73 451h1v1h-1zM137 452h1v1h-1zM65 466h1v1h-1zM206 483h1v1h-1zM232 492h1v1h-1zM77 454h1v1h-1zM80 454h1v1h-1zM100 445h1v1h-1zM61 484h1v1h-1zM215 488h1v1h-1zM68 456h1v1h-1zM117 454h1v1h-1zM68 453h1v1h-1zM104 451h1v1h-1zM222 490h1v1h-1zM216 487h1v1h-1zM61 480h1v1h-1zM83 437h1v1h-1zM151 466h1v1h-1zM93 453h1v1h-1zM107 449h1v1h-1zM161 471h1v1h-1zM186 475h1v1h-1zM105 443h1v1h-1zM123 457h1v1h-1zM163 470h1v1h-1zM80 439h1v1h-1zM191 477h1v1h-1zM153 458h1v1h-1zM64 462h1v1h-1zM93 446h1v1h-1zM182 474h1v1h-1zM185 478h1v1h-1zM108 451h1v1h-1zM82 436h1v1h-1zM84 441h1v1h-1zM118 455h1v1h-1zM68 430h1v1h-1zM71 455h1v1h-1zM62 442h1v1h-1zM64 470h1v1h-1zM80 424h1v1h-1zM84 453h1v1h-1zM110 453h1v1h-1zM113 455h1v1h-1zM162 470h1v1h-1zM86 435h1v1h-1zM78 424h1v1h-1zM189 479h1v1h-1zM220 486h1v1h-1zM110 450h1v1h-1zM126 453h1v1h-1zM137 462h1v1h-1zM84 446h1v1h-1zM94 434h1v1h-1zM60 480h1v1h-1zM88 420h1v1h-1zM133 460h1v1h-1zM92 445h1v1h-1zM66 451h1v1h-1zM80 441h1v1h-1zM69 447h1v1h-1zM66 446h1v1h-1zM101 445h1v1h-1zM97 438h1v1h-1zM101 450h1v1h-1zM79 452h1v1h-1zM129 460h1v1h-1zM102 451h1v1h-1zM100 446h1v1h-1zM119 452h1v1h-1zM75 439h1v1h-1zM81 437h1v1h-1zM200 483h1v1h-1zM123 455h1v1h-1zM80 448h1v1h-1zM127 459h1v1h-1zM175 474h1v1h-1zM111 453h1v1h-1zM98 444h1v1h-1zM108 440h1v1h-1zM210 487h1v1h-1zM64 463h1v1h-1zM90 432h1v1h-1zM93 449h1v1h-1zM65 459h1v1h-1zM103 446h1v1h-1zM120 449h1v1h-1zM66 459h1v1h-1zM67 467h1v1h-1zM74 454h1v1h-1zM108 437h1v1h-1zM138 459h1v1h-1zM222 488h1v1h-1zM104 431h1v1h-1zM82 444h1v1h-1zM100 448h1v1h-1zM120 448h1v1h-1zM205 485h1v1h-1zM122 458h1v1h-1zM108 447h1v1h-1zM88 454h1v1h-1zM73 417h1v1h-1zM158 468h1v1h-1zM135 460h1v1h-1zM103 453h1v1h-1zM63 456h1v1h-1zM111 449h1v1h-1zM116 448h1v1h-1zM115 452h1v1h-1zM161 468h1v1h-1zM87 422h1v1h-1zM74 453h1v1h-1zM133 458h1v1h-1zM120 458h1v1h-1zM201 483h1v1h-1zM111 443h1v1h-1zM63 464h1v1h-1zM137 459h1v1h-1zM78 434h1v1h-1zM155 463h1v1h-1zM103 448h1v1h-1zM72 460h1v1h-1zM127 447h1v1h-1zM82 454h1v1h-1zM100 453h1v1h-1zM204 485h1v1h-1zM76 441h1v1h-1zM92 438h1v1h-1zM78 455h1v1h-1zM200 484h1v1h-1zM166 472h1v1h-1zM162 471h1v1h-1zM121 454h1v1h-1zM107 453h1v1h-1zM122 452h1v1h-1zM130 459h1v1h-1zM82 435h1v1h-1zM88 451h1v1h-1zM161 470h1v1h-1zM70 437h1v1h-1zM87 443h1v1h-1zM164 468h1v1h-1zM82 447h1v1h-1zM104 454h1v1h-1zM233 491h1v1h-1zM75 457h1v1h-1zM194 479h1v1h-1zM224 491h1v1h-1zM192 481h1v1h-1zM82 448h1v1h-1zM156 461h1v1h-1zM87 440h1v1h-1zM218 487h1v1h-1zM70 457h1v1h-1zM211 486h1v1h-1zM98 451h1v1h-1zM63 437h1v1h-1zM88 453h1v1h-1zM231 492h1v1h-1zM213 487h1v1h-1zM82 453h1v1h-1zM179 474h1v1h-1zM120 442h1v1h-1zM106 453h1v1h-1zM70 455h1v1h-1zM122 453h1v1h-1zM114 437h1v1h-1zM59 470h1v1h-1zM125 458h1v1h-1zM230 490h1v1h-1zM211 487h1v1h-1zM192 479h1v1h-1zM100 451h1v1h-1zM115 447h1v1h-1zM74 438h1v1h-1zM94 441h1v1h-1zM66 464h1v1h-1zM116 450h1v1h-1zM129 456h1v1h-1zM74 450h1v1h-1zM68 452h1v1h-1zM144 461h1v1h-1zM132 460h1v1h-1zM94 447h1v1h-1zM156 468h1v1h-1zM164 465h1v1h-1zM95 453h1v1h-1zM179 477h1v1h-1zM181 474h1v1h-1zM110 447h1v1h-1zM75 437h1v1h-1zM74 456h1v1h-1zM64 435h1v1h-1zM174 475h1v1h-1zM111 451h1v1h-1zM75 442h1v1h-1zM64 473h1v1h-1zM172 473h1v1h-1zM121 453h1v1h-1zM87 428h1v1h-1zM85 434h1v1h-1zM79 449h1v1h-1zM79 455h1v1h-1zM94 451h1v1h-1zM215 484h1v1h-1zM73 457h1v1h-1zM184 478h1v1h-1zM66 456h1v1h-1zM221 485h1v1h-1zM74 445h1v1h-1zM178 476h1v1h-1zM83 452h1v1h-1zM93 438h1v1h-1zM93 451h1v1h-1zM130 457h1v1h-1zM198 482h1v1h-1zM61 466h1v1h-1zM96 439h1v1h-1zM201 482h1v1h-1zM66 468h1v1h-1zM122 449h1v1h-1zM151 467h1v1h-1zM120 454h1v1h-1zM72 455h1v1h-1zM231 489h1v1h-1zM191 480h1v1h-1zM160 469h1v1h-1zM87 438h1v1h-1zM83 434h1v1h-1zM87 452h1v1h-1zM113 454h1v1h-1zM105 439h1v1h-1zM114 448h1v1h-1zM107 439h1v1h-1zM78 446h1v1h-1zM206 484h1v1h-1zM70 443h1v1h-1zM75 419h1v1h-1zM116 451h1v1h-1zM78 447h1v1h-1zM118 453h1v1h-1zM64 475h1v1h-1zM69 449h1v1h-1zM232 491h1v1h-1zM119 455h1v1h-1zM112 455h1v1h-1zM76 456h1v1h-1zM203 485h1v1h-1zM207 486h1v1h-1zM96 450h1v1h-1zM66 461h1v1h-1zM71 451h1v1h-1zM126 456h1v1h-1zM81 449h1v1h-1zM70 462h1v1h-1zM164 471h1v1h-1zM189 480h1v1h-1zM105 454h1v1h-1zM192 474h1v1h-1zM149 462h1v1h-1zM72 452h1v1h-1zM110 455h1v1h-1zM190 477h1v1h-1zM134 448h1v1h-1zM75 438h1v1h-1zM208 486h1v1h-1zM84 418h1v1h-1zM75 416h1v1h-1zM107 451h1v1h-1zM62 457h1v1h-1zM152 463h1v1h-1zM74 455h1v1h-1zM218 489h1v1h-1zM89 443h1v1h-1zM104 446h1v1h-1zM95 427h1v1h-1zM70 463h1v1h-1zM76 452h1v1h-1zM187 474h1v1h-1zM64 472h1v1h-1zM60 466h1v1h-1zM86 446h1v1h-1zM175 475h1v1h-1zM70 442h1v1h-1zM78 440h1v1h-1zM109 446h1v1h-1zM212 486h1v1h-1zM63 474h1v1h-1zM75 452h1v1h-1zM89 449h1v1h-1zM210 482h1v1h-1zM73 432h1v1h-1zM95 450h1v1h-1zM143 465h1v1h-1zM63 463h1v1h-1zM153 466h1v1h-1zM98 436h1v1h-1zM73 460h1v1h-1zM136 462h1v1h-1zM178 470h1v1h-1zM99 448h1v1h-1zM139 453h1v1h-1zM115 454h1v1h-1zM176 475h1v1h-1zM104 449h1v1h-1zM85 448h1v1h-1zM68 463h1v1h-1zM61 479h1v1h-1zM79 445h1v1h-1zM92 434h1v1h-1zM159 467h1v1h-1zM103 451h1v1h-1zM199 483h1v1h-1zM173 468h1v1h-1zM72 429h1v1h-1zM89 453h1v1h-1zM178 475h1v1h-1zM93 447h1v1h-1zM71 460h1v1h-1zM181 477h1v1h-1zM233 492h1v1h-1zM115 453h1v1h-1zM87 445h1v1h-1zM157 469h1v1h-1zM75 456h1v1h-1zM75 450h1v1h-1zM186 476h1v1h-1zM97 446h1v1h-1zM104 452h1v1h-1zM144 462h1v1h-1zM97 449h1v1h-1zM168 472h1v1h-1zM65 444h1v1h-1zM81 446h1v1h-1zM111 447h1v1h-1zM228 491h1v1h-1zM71 454h1v1h-1zM80 420h1v1h-1zM79 443h1v1h-1zM188 479h1v1h-1zM227 489h1v1h-1zM115 449h1v1h-1zM160 467h1v1h-1zM121 458h1v1h-1zM207 485h1v1h-1zM173 471h1v1h-1zM159 468h1v1h-1zM75 440h1v1h-1zM176 469h1v1h-1zM84 439h1v1h-1zM104 450h1v1h-1zM75 454h1v1h-1zM89 433h1v1h-1zM94 443h1v1h-1zM68 460h1v1h-1zM74 442h1v1h-1zM102 452h1v1h-1zM73 456h1v1h-1zM142 462h1v1h-1zM84 454h1v1h-1zM159 465h1v1h-1zM63 470h1v1h-1zM117 452h1v1h-1zM92 440h1v1h-1zM221 486h1v1h-1zM135 457h1v1h-1zM75 444h1v1h-1zM62 469h1v1h-1zM183 478h1v1h-1zM85 442h1v1h-1zM69 452h1v1h-1zM118 443h1v1h-1zM125 449h1v1h-1zM166 468h1v1h-1zM192 478h1v1h-1zM223 488h1v1h-1zM76 445h1v1h-1zM142 460h1v1h-1zM189 478h1v1h-1zM125 452h1v1h-1zM64 466h1v1h-1zM91 439h1v1h-1zM118 444h1v1h-1zM137 454h1v1h-1zM87 447h1v1h-1zM130 460h1v1h-1zM106 449h1v1h-1zM114 455h1v1h-1zM230 492h1v1h-1zM156 467h1v1h-1zM60 468h1v1h-1zM205 481h1v1h-1zM231 490h1v1h-1zM85 439h1v1h-1zM87 446h1v1h-1zM154 468h1v1h-1zM133 457h1v1h-1zM101 449h1v1h-1zM127 454h1v1h-1zM165 472h1v1h-1zM80 445h1v1h-1zM86 454h1v1h-1zM76 444h1v1h-1zM148 463h1v1h-1zM98 445h1v1h-1zM221 489h1v1h-1zM145 462h1v1h-1zM83 453h1v1h-1zM78 456h1v1h-1zM171 470h1v1h-1zM177 476h1v1h-1zM93 448h1v1h-1zM118 454h1v1h-1zM107 450h1v1h-1zM91 450h1v1h-1zM110 448h1v1h-1zM112 448h1v1h-1zM118 449h1v1h-1zM123 456h1v1h-1zM124 449h1v1h-1zM62 476h1v1h-1zM60 474h1v1h-1zM169 474h1v1h-1zM110 444h1v1h-1zM148 466h1v1h-1zM113 453h1v1h-1zM125 453h1v1h-1zM234 492h1v1h-1zM123 454h1v1h-1zM130 455h1v1h-1zM63 439h1v1h-1zM93 445h1v1h-1zM89 450h1v1h-1zM155 467h1v1h-1zM174 473h1v1h-1zM64 432h1v1h-1zM61 478h1v1h-1zM70 452h1v1h-1zM210 485h1v1h-1zM98 430h1v1h-1zM147 462h1v1h-1zM121 456h1v1h-1zM202 484h1v1h-1zM97 453h1v1h-1zM80 452h1v1h-1zM85 435h1v1h-1zM93 441h1v1h-1zM99 446h1v1h-1zM70 450h1v1h-1zM76 436h1v1h-1zM102 450h1v1h-1zM186 478h1v1h-1zM60 488h1v1h-1zM113 440h1v1h-1zM90 434h1v1h-1zM72 437h1v1h-1zM231 491h1v1h-1zM141 463h1v1h-1zM94 445h1v1h-1zM174 474h1v1h-1zM118 452h1v1h-1zM90 447h1v1h-1zM132 459h1v1h-1zM78 451h1v1h-1zM64 445h1v1h-1zM184 473h1v1h-1zM78 444h1v1h-1zM62 480h1v1h-1zM93 452h1v1h-1zM103 441h1v1h-1zM157 464h1v1h-1zM89 445h1v1h-1zM93 443h1v1h-1zM180 477h1v1h-1zM113 447h1v1h-1zM176 476h1v1h-1zM159 469h1v1h-1zM60 482h1v1h-1zM125 445h1v1h-1zM99 453h1v1h-1zM76 449h1v1h-1zM147 465h1v1h-1zM62 462h1v1h-1zM124 457h1v1h-1zM216 489h1v1h-1zM170 466h1v1h-1zM89 448h1v1h-1zM61 477h1v1h-1zM94 453h1v1h-1zM75 453h1v1h-1zM61 483h1v1h-1zM130 456h1v1h-1zM79 435h1v1h-1zM63 467h1v1h-1zM61 464h1v1h-1zM69 464h1v1h-1zM100 452h1v1h-1zM89 441h1v1h-1zM80 449h1v1h-1zM99 439h1v1h-1zM204 483h1v1h-1zM77 435h1v1h-1zM87 441h1v1h-1zM74 458h1v1h-1zM81 452h1v1h-1zM194 481h1v1h-1zM80 442h1v1h-1zM109 451h1v1h-1zM233 490h1v1h-1zM131 455h1v1h-1zM187 471h1v1h-1zM123 459h1v1h-1zM132 451h1v1h-1zM133 461h1v1h-1zM95 452h1v1h-1zM66 457h1v1h-1zM66 469h1v1h-1zM171 474h1v1h-1zM232 489h1v1h-1zM145 461h1v1h-1zM75 451h1v1h-1zM61 482h1v1h-1zM93 435h1v1h-1zM63 475h1v1h-1zM106 454h1v1h-1zM116 446h1v1h-1zM166 466h1v1h-1zM215 486h1v1h-1zM100 441h1v1h-1zM81 441h1v1h-1zM72 448h1v1h-1zM73 446h1v1h-1zM165 466h1v1h-1zM81 426h1v1h-1zM66 462h1v1h-1zM200 480h1v1h-1zM132 461h1v1h-1zM80 455h1v1h-1zM95 446h1v1h-1zM101 439h1v1h-1zM69 444h1v1h-1zM127 453h1v1h-1zM84 442h1v1h-1zM187 479h1v1h-1zM165 471h1v1h-1zM119 457h1v1h-1zM157 468h1v1h-1zM196 482h1v1h-1zM87 453h1v1h-1zM96 449h1v1h-1zM154 465h1v1h-1zM135 461h1v1h-1zM104 443h1v1h-1zM66 465h1v1h-1zM208 485h1v1h-1zM111 454h1v1h-1zM108 454h1v1h-1zM120 455h1v1h-1zM87 444h1v1h-1zM148 460h1v1h-1zM78 454h1v1h-1zM66 470h1v1h-1zM114 451h1v1h-1zM129 459h1v1h-1zM74 430h1v1h-1zM114 449h1v1h-1zM73 423h1v1h-1zM65 462h1v1h-1zM76 446h1v1h-1zM67 464h1v1h-1zM196 481h1v1h-1zM173 475h1v1h-1zM72 457h1v1h-1zM97 451h1v1h-1zM68 462h1v1h-1zM65 460h1v1h-1zM78 453h1v1h-1zM112 436h1v1h-1zM103 434h1v1h-1zM173 470h1v1h-1zM107 429h1v1h-1zM63 469h1v1h-1zM62 479h1v1h-1zM95 444h1v1h-1zM91 445h1v1h-1zM77 446h1v1h-1zM124 455h1v1h-1zM91 446h1v1h-1zM70 456h1v1h-1zM65 472h1v1h-1zM78 452h1v1h-1zM83 438h1v1h-1zM113 442h1v1h-1zM152 466h1v1h-1zM120 440h1v1h-1zM149 461h1v1h-1zM80 456h1v1h-1zM98 450h1v1h-1zM118 450h1v1h-1zM80 443h1v1h-1zM106 441h1v1h-1zM89 447h1v1h-1zM69 456h1v1h-1zM123 441h1v1h-1zM198 483h1v1h-1zM81 448h1v1h-1zM95 451h1v1h-1zM145 465h1v1h-1zM216 488h1v1h-1zM125 459h1v1h-1zM89 452h1v1h-1zM63 468h1v1h-1zM164 469h1v1h-1zM108 452h1v1h-1zM199 484h1v1h-1zM95 449h1v1h-1zM117 441h1v1h-1zM98 448h1v1h-1zM198 479h1v1h-1zM143 464h1v1h-1zM77 431h1v1h-1zM141 460h1v1h-1zM218 488h1v1h-1zM138 461h1v1h-1zM91 418h1v1h-1zM60 486h1v1h-1zM64 465h1v1h-1zM68 455h1v1h-1zM211 485h1v1h-1zM78 433h1v1h-1zM59 483h1v1h-1zM184 477h1v1h-1zM102 447h1v1h-1zM63 466h1v1h-1zM179 476h1v1h-1zM104 447h1v1h-1zM108 438h1v1h-1zM193 482h1v1h-1zM65 452h1v1h-1zM87 430h1v1h-1zM72 453h1v1h-1zM73 458h1v1h-1zM107 447h1v1h-1zM99 449h1v1h-1zM73 437h1v1h-1zM195 480h1v1h-1zM91 452h1v1h-1zM174 471h1v1h-1zM214 487h1v1h-1zM122 455h1v1h-1zM123 447h1v1h-1zM68 444h1v1h-1zM71 436h1v1h-1zM170 472h1v1h-1zM189 477h1v1h-1zM90 450h1v1h-1zM135 452h1v1h-1zM66 467h1v1h-1zM104 445h1v1h-1zM92 447h1v1h-1zM171 471h1v1h-1zM206 486h1v1h-1zM84 452h1v1h-1zM95 447h1v1h-1zM116 453h1v1h-1zM78 428h1v1h-1zM156 469h1v1h-1zM188 478h1v1h-1zM61 481h1v1h-1zM150 458h1v1h-1zM182 475h1v1h-1zM213 488h1v1h-1zM140 458h1v1h-1zM180 475h1v1h-1zM145 455h1v1h-1zM137 460h1v1h-1zM91 443h1v1h-1zM201 484h1v1h-1zM108 442h1v1h-1zM176 472h1v1h-1zM226 487h1v1h-1zM94 442h1v1h-1zM74 452h1v1h-1zM83 441h1v1h-1zM61 476h1v1h-1zM191 479h1v1h-1zM168 470h1v1h-1zM214 485h1v1h-1zM60 459h1v1h-1zM72 444h1v1h-1zM82 449h1v1h-1zM81 439h1v1h-1zM177 475h1v1h-1zM81 432h1v1h-1zM117 456h1v1h-1zM66 448h1v1h-1zM67 456h1v1h-1zM84 444h1v1h-1zM149 467h1v1h-1zM86 425h1v1h-1zM82 450h1v1h-1zM67 461h1v1h-1zM163 463h1v1h-1zM200 481h1v1h-1zM118 457h1v1h-1zM108 443h1v1h-1zM128 459h1v1h-1zM119 454h1v1h-1zM103 444h1v1h-1zM71 449h1v1h-1zM199 479h1v1h-1zM62 461h1v1h-1zM235 492h1v1h-1zM71 425h1v1h-1zM167 473h1v1h-1zM209 484h1v1h-1zM85 447h1v1h-1zM90 423h1v1h-1zM141 464h1v1h-1zM158 465h1v1h-1zM81 455h1v1h-1zM125 457h1v1h-1zM69 462h1v1h-1zM97 433h1v1h-1zM77 450h1v1h-1zM103 447h1v1h-1zM226 490h1v1h-1zM70 433h1v1h-1zM72 454h1v1h-1zM110 449h1v1h-1zM65 447h1v1h-1zM79 453h1v1h-1zM106 451h1v1h-1zM173 467h1v1h-1zM131 459h1v1h-1zM159 460h1v1h-1zM173 474h1v1h-1zM73 453h1v1h-1zM82 434h1v1h-1zM193 480h1v1h-1zM115 450h1v1h-1zM123 451h1v1h-1zM61 468h1v1h-1zM144 460h1v1h-1zM222 487h1v1h-1zM108 441h1v1h-1zM97 439h1v1h-1zM171 475h1v1h-1zM205 482h1v1h-1zM77 449h1v1h-1zM109 449h1v1h-1zM85 446h1v1h-1zM176 470h1v1h-1zM180 476h1v1h-1zM95 441h1v1h-1zM79 454h1v1h-1zM94 429h1v1h-1zM105 448h1v1h-1zM67 453h1v1h-1zM79 444h1v1h-1zM161 467h1v1h-1zM137 457h1v1h-1zM220 489h1v1h-1zM140 462h1v1h-1zM103 454h1v1h-1zM85 453h1v1h-1zM140 460h1v1h-1zM73 444h1v1h-1zM84 432h1v1h-1zM103 452h1v1h-1zM113 435h1v1h-1zM134 460h1v1h-1zM62 466h1v1h-1zM203 480h1v1h-1zM155 468h1v1h-1zM173 473h1v1h-1zM120 450h1v1h-1zM166 467h1v1h-1zM179 472h1v1h-1zM68 458h1v1h-1zM73 445h1v1h-1zM158 469h1v1h-1zM177 471h1v1h-1zM234 491h1v1h-1zM85 443h1v1h-1zM208 482h1v1h-1zM98 449h1v1h-1zM164 472h1v1h-1zM100 444h1v1h-1zM123 449h1v1h-1zM69 440h1v1h-1zM127 455h1v1h-1zM152 462h1v1h-1zM109 448h1v1h-1zM169 465h1v1h-1zM143 463h1v1h-1zM65 457h1v1h-1zM78 437h1v1h-1zM90 451h1v1h-1zM167 469h1v1h-1zM147 459h1v1h-1zM131 461h1v1h-1zM76 455h1v1h-1zM199 482h1v1h-1zM142 461h1v1h-1zM81 444h1v1h-1zM186 471h1v1h-1zM101 452h1v1h-1zM86 448h1v1h-1zM96 440h1v1h-1zM86 449h1v1h-1zM91 434h1v1h-1zM172 474h1v1h-1zM70 449h1v1h-1zM157 467h1v1h-1zM162 469h1v1h-1zM176 468h1v1h-1zM145 464h1v1h-1zM83 435h1v1h-1zM94 444h1v1h-1zM64 461h1v1h-1zM96 446h1v1h-1zM106 446h1v1h-1zM131 458h1v1h-1zM194 478h1v1h-1zM62 474h1v1h-1zM63 476h1v1h-1zM82 440h1v1h-1zM227 488h1v1h-1zM68 424h1v1h-1zM96 442h1v1h-1zM88 435h1v1h-1zM109 454h1v1h-1zM105 449h1v1h-1zM114 445h1v1h-1zM154 463h1v1h-1zM88 448h1v1h-1zM111 452h1v1h-1zM79 450h1v1h-1zM79 429h1v1h-1zM62 454h1v1h-1zM183 477h1v1h-1zM119 451h1v1h-1zM229 487h1v1h-1zM107 445h1v1h-1zM68 440h1v1h-1zM141 459h1v1h-1zM72 450h1v1h-1zM201 477h1v1h-1zM110 451h1v1h-1zM96 447h1v1h-1zM180 474h1v1h-1zM68 443h1v1h-1zM114 454h1v1h-1zM71 445h1v1h-1zM98 442h1v1h-1zM109 442h1v1h-1zM83 436h1v1h-1zM72 451h1v1h-1zM137 463h1v1h-1zM219 489h1v1h-1zM97 450h1v1h-1zM201 480h1v1h-1zM124 456h1v1h-1zM226 491h1v1h-1zM71 458h1v1h-1zM149 465h1v1h-1zM85 451h1v1h-1zM168 469h1v1h-1zM148 464h1v1h-1zM83 447h1v1h-1zM83 443h1v1h-1zM69 450h1v1h-1zM65 456h1v1h-1zM95 439h1v1h-1zM109 450h1v1h-1zM63 465h1v1h-1zM69 459h1v1h-1zM71 462h1v1h-1zM113 443h1v1h-1zM171 465h1v1h-1zM146 464h1v1h-1zM152 467h1v1h-1zM73 454h1v1h-1zM92 451h1v1h-1zM70 461h1v1h-1zM60 475h1v1h-1zM71 440h1v1h-1zM124 454h1v1h-1zM112 447h1v1h-1zM166 471h1v1h-1zM88 437h1v1h-1zM117 440h1v1h-1zM106 450h1v1h-1zM87 442h1v1h-1zM104 428h1v1h-1zM100 450h1v1h-1zM117 450h1v1h-1zM81 447h1v1h-1zM138 463h1v1h-1zM95 443h1v1h-1zM115 456h1v1h-1zM96 444h1v1h-1zM100 434h1v1h-1zM99 434h1v1h-1zM93 433h1v1h-1zM83 440h1v1h-1zM119 453h1v1h-1zM99 445h1v1h-1zM61 452h1v1h-1zM117 447h1v1h-1zM205 486h1v1h-1zM67 449h1v1h-1zM90 419h1v1h-1zM165 470h1v1h-1zM230 489h1v1h-1zM88 427h1v1h-1zM82 451h1v1h-1zM126 460h1v1h-1zM110 452h1v1h-1zM109 453h1v1h-1zM139 463h1v1h-1zM97 444h1v1h-1zM61 475h1v1h-1zM222 486h1v1h-1zM134 452h1v1h-1zM62 470h1v1h-1zM235 491h1v1h-1zM154 461h1v1h-1zM105 452h1v1h-1zM83 448h1v1h-1zM101 444h1v1h-1zM95 425h1v1h-1zM72 440h1v1h-1zM96 448h1v1h-1zM154 467h1v1h-1zM64 469h1v1h-1zM79 447h1v1h-1zM171 469h1v1h-1zM92 450h1v1h-1zM91 453h1v1h-1zM179 469h1v1h-1zM77 428h1v1h-1zM127 450h1v1h-1zM81 433h1v1h-1zM60 485h1v1h-1zM74 444h1v1h-1zM220 488h1v1h-1zM126 455h1v1h-1zM125 455h1v1h-1zM199 480h1v1h-1zM215 485h1v1h-1zM60 487h1v1h-1zM122 457h1v1h-1zM204 484h1v1h-1zM71 439h1v1h-1zM116 456h1v1h-1zM94 446h1v1h-1zM191 478h1v1h-1zM90 453h1v1h-1zM149 463h1v1h-1zM212 484h1v1h-1zM88 429h1v1h-1zM62 473h1v1h-1zM116 452h1v1h-1zM107 448h1v1h-1zM188 477h1v1h-1zM185 473h1v1h-1zM83 422h1v1h-1zM61 486h1v1h-1zM83 427h1v1h-1zM190 479h1v1h-1zM68 464h1v1h-1zM126 448h1v1h-1zM111 455h1v1h-1zM65 428h1v1h-1zM111 446h1v1h-1zM112 441h1v1h-1zM176 474h1v1h-1zM92 444h1v1h-1zM88 449h1v1h-1zM71 450h1v1h-1zM63 473h1v1h-1zM105 441h1v1h-1zM67 445h1v1h-1zM101 440h1v1h-1zM64 457h1v1h-1zM158 466h1v1h-1zM79 456h1v1h-1zM63 460h1v1h-1zM88 436h1v1h-1zM128 460h1v1h-1zM92 446h1v1h-1zM111 448h1v1h-1zM104 439h1v1h-1zM101 441h1v1h-1zM161 465h1v1h-1zM73 450h1v1h-1zM138 457h1v1h-1zM101 447h1v1h-1zM61 471h1v1h-1zM89 451h1v1h-1zM109 437h1v1h-1zM66 447h1v1h-1zM66 449h1v1h-1zM141 462h1v1h-1zM78 430h1v1h-1zM66 455h1v1h-1zM65 463h1v1h-1zM176 471h1v1h-1zM148 454h1v1h-1zM98 434h1v1h-1zM181 472h1v1h-1zM182 476h1v1h-1zM155 459h1v1h-1zM132 454h1v1h-1zM62 446h1v1h-1zM64 471h1v1h-1zM84 435h1v1h-1zM99 450h1v1h-1zM138 455h1v1h-1zM209 486h1v1h-1zM86 428h1v1h-1zM112 444h1v1h-1zM61 467h1v1h-1zM74 441h1v1h-1zM96 445h1v1h-1zM100 449h1v1h-1zM63 435h1v1h-1zM93 431h1v1h-1zM186 474h1v1h-1zM90 441h1v1h-1zM221 488h1v1h-1zM63 455h1v1h-1zM75 458h1v1h-1zM83 455h1v1h-1zM63 450h1v1h-1zM193 481h1v1h-1zM67 455h1v1h-1zM181 473h1v1h-1zM66 466h1v1h-1zM86 452h1v1h-1zM105 444h1v1h-1zM106 445h1v1h-1zM177 472h1v1h-1zM64 474h1v1h-1zM84 420h1v1h-1zM172 470h1v1h-1zM75 429h1v1h-1zM108 449h1v1h-1zM114 453h1v1h-1zM185 477h1v1h-1zM211 484h1v1h-1zM64 451h1v1h-1zM150 462h1v1h-1zM134 457h1v1h-1zM156 466h1v1h-1zM82 455h1v1h-1zM70 446h1v1h-1zM139 464h1v1h-1zM102 454h1v1h-1zM91 435h1v1h-1zM86 423h1v1h-1zM64 468h1v1h-1zM117 451h1v1h-1zM91 449h1v1h-1zM68 447h1v1h-1zM98 446h1v1h-1zM78 450h1v1h-1zM63 462h1v1h-1zM70 445h1v1h-1zM177 474h1v1h-1zM122 454h1v1h-1zM129 446h1v1h-1zM59 482h1v1h-1zM120 453h1v1h-1zM74 437h1v1h-1zM119 444h1v1h-1zM96 436h1v1h-1zM209 487h1v1h-1zM67 432h1v1h-1zM204 481h1v1h-1zM95 442h1v1h-1zM209 485h1v1h-1zM59 492h1v1h-1zM116 455h1v1h-1zM99 451h1v1h-1zM77 430h1v1h-1zM94 452h1v1h-1zM106 448h1v1h-1zM169 472h1v1h-1zM210 486h1v1h-1zM155 466h1v1h-1zM170 473h1v1h-1zM64 447h1v1h-1zM132 458h1v1h-1zM103 439h1v1h-1zM160 470h1v1h-1zM190 480h1v1h-1zM98 441h1v1h-1zM62 451h1v1h-1zM86 447h1v1h-1zM102 442h1v1h-1zM111 444h1v1h-1zM146 461h1v1h-1zM128 457h1v1h-1zM114 447h1v1h-1zM68 437h1v1h-1zM89 454h1v1h-1zM95 431h1v1h-1zM134 458h1v1h-1zM92 448h1v1h-1zM88 445h1v1h-1zM82 437h1v1h-1zM188 472h1v1h-1zM197 483h1v1h-1zM114 450h1v1h-1zM67 423h1v1h-1zM135 450h1v1h-1zM134 451h1v1h-1zM153 464h1v1h-1zM88 440h1v1h-1zM99 442h1v1h-1zM116 454h1v1h-1zM97 442h1v1h-1zM98 443h1v1h-1zM117 439h1v1h-1zM112 452h1v1h-1zM87 451h1v1h-1zM69 451h1v1h-1zM74 425h1v1h-1zM73 438h1v1h-1zM126 457h1v1h-1zM82 422h1v1h-1zM203 482h1v1h-1zM92 453h1v1h-1zM164 467h1v1h-1zM65 438h1v1h-1zM218 486h1v1h-1zM80 434h1v1h-1zM146 466h1v1h-1zM144 463h1v1h-1zM149 466h1v1h-1zM115 444h1v1h-1zM74 419h1v1h-1zM81 435h1v1h-1zM181 470h1v1h-1zM217 489h1v1h-1zM214 486h1v1h-1zM143 457h1v1h-1zM153 468h1v1h-1zM72 441h1v1h-1zM78 441h1v1h-1zM166 473h1v1h-1zM194 480h1v1h-1zM88 450h1v1h-1zM61 473h1v1h-1zM111 445h1v1h-1zM72 442h1v1h-1zM127 457h1v1h-1zM91 447h1v1h-1zM72 456h1v1h-1zM72 430h1v1h-1zM65 467h1v1h-1zM72 447h1v1h-1zM69 463h1v1h-1zM195 481h1v1h-1zM60 479h1v1h-1zM175 476h1v1h-1zM179 475h1v1h-1zM133 453h1v1h-1zM113 445h1v1h-1zM111 440h1v1h-1zM124 459h1v1h-1zM85 444h1v1h-1zM107 443h1v1h-1zM114 442h1v1h-1zM86 445h1v1h-1zM67 435h1v1h-1zM217 483h1v1h-1zM67 463h1v1h-1zM127 458h1v1h-1zM230 487h1v1h-1zM65 432h1v1h-1zM105 440h1v1h-1zM155 469h1v1h-1zM63 453h1v1h-1zM167 471h1v1h-1zM86 439h1v1h-1zM80 429h1v1h-1zM71 429h1v1h-1zM147 466h1v1h-1zM66 460h1v1h-1zM112 450h1v1h-1zM187 478h1v1h-1zM71 444h1v1h-1zM106 440h1v1h-1zM72 443h1v1h-1zM74 443h1v1h-1zM148 462h1v1h-1zM80 436h1v1h-1zM84 437h1v1h-1zM71 428h1v1h-1zM70 459h1v1h-1zM90 433h1v1h-1zM90 449h1v1h-1zM178 469h1v1h-1zM60 470h1v1h-1zM91 448h1v1h-1zM102 446h1v1h-1zM128 451h1v1h-1zM109 444h1v1h-1zM86 441h1v1h-1zM131 454h1v1h-1zM164 470h1v1h-1zM164 466h1v1h-1zM114 435h1v1h-1zM84 433h1v1h-1zM73 455h1v1h-1zM163 471h1v1h-1zM167 470h1v1h-1zM75 430h1v1h-1zM61 472h1v1h-1zM203 483h1v1h-1zM77 432h1v1h-1zM70 422h1v1h-1zM68 451h1v1h-1zM71 443h1v1h-1zM99 441h1v1h-1zM122 446h1v1h-1zM91 442h1v1h-1zM65 450h1v1h-1zM73 422h1v1h-1zM221 490h1v1h-1zM104 444h1v1h-1zM63 438h1v1h-1zM92 441h1v1h-1zM82 439h1v1h-1zM196 478h1v1h-1zM145 454h1v1h-1zM122 441h1v1h-1zM65 465h1v1h-1zM112 446h1v1h-1zM76 438h1v1h-1zM64 458h1v1h-1zM69 428h1v1h-1zM118 440h1v1h-1zM74 447h1v1h-1zM97 445h1v1h-1zM232 488h1v1h-1zM104 441h1v1h-1zM121 455h1v1h-1zM71 459h1v1h-1zM95 428h1v1h-1zM178 472h1v1h-1zM87 416h1v1h-1zM83 426h1v1h-1zM83 419h1v1h-1zM61 455h1v1h-1zM124 458h1v1h-1zM233 487h1v1h-1zM70 436h1v1h-1zM68 431h1v1h-1zM68 466h1v1h-1zM78 435h1v1h-1zM152 460h1v1h-1zM177 473h1v1h-1zM88 444h1v1h-1zM142 463h1v1h-1zM155 465h1v1h-1zM115 446h1v1h-1zM163 469h1v1h-1zM75 455h1v1h-1zM181 471h1v1h-1zM76 453h1v1h-1zM212 485h1v1h-1zM155 460h1v1h-1zM125 454h1v1h-1zM117 445h1v1h-1zM112 443h1v1h-1zM195 482h1v1h-1zM116 449h1v1h-1zM61 465h1v1h-1zM71 422h1v1h-1zM67 458h1v1h-1zM79 439h1v1h-1zM141 456h1v1h-1zM88 443h1v1h-1zM123 448h1v1h-1zM67 448h1v1h-1zM76 442h1v1h-1zM76 451h1v1h-1zM121 451h1v1h-1zM103 435h1v1h-1zM108 448h1v1h-1zM195 479h1v1h-1zM169 470h1v1h-1zM106 429h1v1h-1zM153 465h1v1h-1zM74 451h1v1h-1zM86 453h1v1h-1zM74 434h1v1h-1zM74 448h1v1h-1zM169 469h1v1h-1zM183 476h1v1h-1zM69 436h1v1h-1zM166 470h1v1h-1zM195 477h1v1h-1zM62 468h1v1h-1zM72 446h1v1h-1zM101 436h1v1h-1zM79 451h1v1h-1zM72 459h1v1h-1zM216 482h1v1h-1zM60 490h1v1h-1zM91 426h1v1h-1zM75 449h1v1h-1zM150 465h1v1h-1zM184 475h1v1h-1zM162 468h1v1h-1zM125 451h1v1h-1zM131 456h1v1h-1zM217 486h1v1h-1zM83 445h1v1h-1zM69 441h1v1h-1zM62 482h1v1h-1zM71 452h1v1h-1zM128 455h1v1h-1zM108 455h1v1h-1zM81 451h1v1h-1zM76 448h1v1h-1zM157 461h1v1h-1zM74 436h1v1h-1zM69 455h1v1h-1zM65 471h1v1h-1zM62 465h1v1h-1zM184 476h1v1h-1zM86 444h1v1h-1zM80 432h1v1h-1zM120 451h1v1h-1zM114 441h1v1h-1zM84 434h1v1h-1zM160 468h1v1h-1zM70 451h1v1h-1zM101 429h1v1h-1zM77 448h1v1h-1zM116 457h1v1h-1zM135 454h1v1h-1zM64 446h1v1h-1zM75 441h1v1h-1zM133 459h1v1h-1zM72 432h1v1h-1zM231 488h1v1h-1zM72 431h1v1h-1zM106 443h1v1h-1zM182 472h1v1h-1zM213 485h1v1h-1zM77 436h1v1h-1zM146 455h1v1h-1zM133 454h1v1h-1zM97 447h1v1h-1zM89 434h1v1h-1zM131 451h1v1h-1zM205 484h1v1h-1zM82 452h1v1h-1zM77 447h1v1h-1zM136 459h1v1h-1zM84 429h1v1h-1zM89 428h1v1h-1zM173 469h1v1h-1zM182 477h1v1h-1zM112 442h1v1h-1zM94 428h1v1h-1zM167 465h1v1h-1zM60 478h1v1h-1zM75 459h1v1h-1zM107 434h1v1h-1zM150 461h1v1h-1zM146 462h1v1h-1zM80 451h1v1h-1zM147 457h1v1h-1zM117 449h1v1h-1zM82 446h1v1h-1zM72 461h1v1h-1zM110 454h1v1h-1zM157 463h1v1h-1zM175 471h1v1h-1zM80 440h1v1h-1zM183 471h1v1h-1zM60 484h1v1h-1zM139 452h1v1h-1zM78 427h1v1h-1zM135 458h1v1h-1zM69 438h1v1h-1zM102 443h1v1h-1zM100 439h1v1h-1zM225 487h1v1h-1zM105 446h1v1h-1zM88 439h1v1h-1zM158 463h1v1h-1zM125 456h1v1h-1zM87 450h1v1h-1zM59 459h1v1h-1zM136 460h1v1h-1zM86 431h1v1h-1zM62 460h1v1h-1zM157 465h1v1h-1zM91 432h1v1h-1zM198 478h1v1h-1zM159 466h1v1h-1zM59 486h1v1h-1zM204 479h1v1h-1zM78 448h1v1h-1zM84 431h1v1h-1zM120 456h1v1h-1zM105 450h1v1h-1zM76 431h1v1h-1zM128 456h1v1h-1zM123 442h1v1h-1zM170 470h1v1h-1zM65 454h1v1h-1zM171 473h1v1h-1zM63 443h1v1h-1zM67 454h1v1h-1zM99 440h1v1h-1zM77 440h1v1h-1zM86 442h1v1h-1zM130 454h1v1h-1zM227 490h1v1h-1zM103 450h1v1h-1zM66 431h1v1h-1zM76 435h1v1h-1zM64 476h1v1h-1zM108 450h1v1h-1zM117 443h1v1h-1zM220 490h1v1h-1zM70 448h1v1h-1zM158 467h1v1h-1zM136 453h1v1h-1zM140 454h1v1h-1zM71 430h1v1h-1zM63 442h1v1h-1zM59 485h1v1h-1zM65 464h1v1h-1zM76 447h1v1h-1zM110 443h1v1h-1zM60 461h1v1h-1zM61 459h1v1h-1zM59 488h1v1h-1zM74 449h1v1h-1zM163 472h1v1h-1zM63 448h1v1h-1zM66 440h1v1h-1zM59 481h1v1h-1zM55 548h1v1h-1zM56 532h1v1h-1zM55 538h1v1h-1zM58 480h1v1h-1zM56 531h1v1h-1zM58 492h1v1h-1zM55 493h1v1h-1zM54 546h1v1h-1zM56 535h1v1h-1zM59 497h1v1h-1zM59 493h1v1h-1zM58 517h1v1h-1zM54 543h1v1h-1zM55 539h1v1h-1zM58 507h1v1h-1zM56 507h1v1h-1zM62 463h1v1h-1zM56 509h1v1h-1zM58 508h1v1h-1zM55 517h1v1h-1zM56 536h1v1h-1zM57 527h1v1h-1zM56 524h1v1h-1zM59 480h1v1h-1zM59 498h1v1h-1zM56 527h1v1h-1zM56 522h1v1h-1zM62 458h1v1h-1zM54 550h1v1h-1zM50 544h1v1h-1zM62 459h1v1h-1zM55 540h1v1h-1zM56 529h1v1h-1zM58 500h1v1h-1zM61 462h1v1h-1zM59 496h1v1h-1zM55 532h1v1h-1zM58 516h1v1h-1zM59 484h1v1h-1zM55 511h1v1h-1zM57 522h1v1h-1zM57 496h1v1h-1zM60 483h1v1h-1zM57 517h1v1h-1zM56 502h1v1h-1zM52 534h1v1h-1zM58 505h1v1h-1zM59 472h1v1h-1zM56 511h1v1h-1zM63 457h1v1h-1zM58 479h1v1h-1zM61 474h1v1h-1zM61 461h1v1h-1zM56 515h1v1h-1zM58 511h1v1h-1zM57 505h1v1h-1zM54 508h1v1h-1zM56 523h1v1h-1zM58 510h1v1h-1zM61 463h1v1h-1zM60 481h1v1h-1zM59 495h1v1h-1zM58 467h1v1h-1zM53 549h1v1h-1zM53 548h1v1h-1zM54 535h1v1h-1zM58 498h1v1h-1zM52 544h1v1h-1zM56 510h1v1h-1zM55 544h1v1h-1zM56 512h1v1h-1zM63 459h1v1h-1zM52 543h1v1h-1zM53 482h1v1h-1zM58 493h1v1h-1zM59 500h1v1h-1zM54 545h1v1h-1zM59 502h1v1h-1zM53 545h1v1h-1zM53 538h1v1h-1zM57 515h1v1h-1zM56 514h1v1h-1zM56 538h1v1h-1zM61 460h1v1h-1zM59 499h1v1h-1zM57 509h1v1h-1zM59 490h1v1h-1zM59 494h1v1h-1zM62 467h1v1h-1zM54 524h1v1h-1zM56 513h1v1h-1zM55 550h1v1h-1zM60 491h1v1h-1zM55 541h1v1h-1zM54 539h1v1h-1zM56 528h1v1h-1zM57 516h1v1h-1zM57 525h1v1h-1zM55 531h1v1h-1zM57 480h1v1h-1zM53 476h1v1h-1zM58 465h1v1h-1zM58 488h1v1h-1zM60 492h1v1h-1zM58 515h1v1h-1zM55 542h1v1h-1zM61 457h1v1h-1zM57 481h1v1h-1zM60 463h1v1h-1zM53 535h1v1h-1zM59 505h1v1h-1zM54 527h1v1h-1zM59 477h1v1h-1zM56 500h1v1h-1zM54 536h1v1h-1zM58 461h1v1h-1zM57 495h1v1h-1zM60 410h1v1h-1zM72 406h1v1h-1zM75 408h1v1h-1zM82 418h1v1h-1zM83 418h1v1h-1zM88 416h1v1h-1zM92 415h1v1h-1zM93 422h1v1h-1zM64 424h1v1h-1zM68 425h1v1h-1zM70 424h1v1h-1zM74 424h1v1h-1zM78 426h1v1h-1zM84 424h1v1h-1zM66 428h1v1h-1zM90 430h1v1h-1zM94 430h1v1h-1zM98 428h1v1h-1zM98 432h1v1h-1zM106 432h1v1h-1zM62 434h1v1h-1zM66 436h1v1h-1zM110 438h1v1h-1zM124 442h1v1h-1zM130 445h1v1h-1zM130 450h1v1h-1zM56 464h1v1h-1zM54 474h1v1h-1zM56 494h1v1h-1z"/>
<rect x="42.30" y="401.50" width="214.50" height="159.80" fill="none" stroke="#1a1a1a" stroke-width="0.95"/>
<path d="M52.51 561.30v2.3M42.30 553.69h-2.3M93.37 561.30v2.3M42.30 523.25h-2.3M134.23 561.30v2.3M42.30 492.81h-2.3M175.09 561.30v2.3M42.30 462.38h-2.3M215.94 561.30v2.3M42.30 431.94h-2.3M256.80 561.30v2.3M42.30 401.50h-2.3" stroke="#1a1a1a" stroke-width="0.75" fill="none"/>
<g font-family="DejaVu Sans, Liberation Sans, sans-serif" font-size="9.1" letter-spacing="-0.12" fill="#161616" stroke="#161616" stroke-width="0.18"><text x="52.5" y="572.6" text-anchor="middle">0.0</text><text x="38.3" y="557.3" text-anchor="end">0.0</text><text x="93.4" y="572.6" text-anchor="middle">0.2</text><text x="38.3" y="526.9" text-anchor="end">0.2</text><text x="134.2" y="572.6" text-anchor="middle">0.4</text><text x="38.3" y="496.4" text-anchor="end">0.4</text><text x="175.1" y="572.6" text-anchor="middle">0.6</text><text x="38.3" y="466.0" text-anchor="end">0.6</text><text x="215.9" y="572.6" text-anchor="middle">0.8</text><text x="38.3" y="435.5" text-anchor="end">0.8</text><text x="256.8" y="572.6" text-anchor="middle">1.0</text><text x="38.3" y="405.1" text-anchor="end">1.0</text></g>
<text x="232.7" y="433.8" text-anchor="middle" font-family="Liberation Serif, DejaVu Serif, serif" font-weight="bold" font-size="14" fill="#111">(e)</text>
<g transform="translate(135.6 586.4)" font-family="Liberation Serif, DejaVu Serif, serif" font-size="14.2" fill="#262626"><text x="0.0" y="0.0" font-style="italic">I</text><text transform="translate(5.6 0.8) scale(1.00 1.11)" font-size="15.2">(</text><text x="11.3" y="0.0" font-style="italic">ρ</text><text transform="translate(18.2 3.6) scale(1.36 1.00)" font-style="italic" font-size="9.8">AB</text><text transform="translate(35.8 0.8) scale(1.00 1.11)" font-size="15.2">)</text></g>
<g transform="translate(16.4 506.4) rotate(-90)" font-family="Liberation Serif, DejaVu Serif, serif" font-size="14.2" fill="#262626"><text x="0.0" y="0.0" font-style="italic">I</text><text x="3.8" y="2.0" font-style="italic" font-size="10.0">q</text><text transform="translate(9.9 2.0) scale(1.70 1.00)" font-size="10.0">=</text><text x="18.5" y="2.0" font-size="10.0">2</text><text transform="translate(25.0 -0.3) scale(1.00 1.11)" font-size="15.2">(</text><text x="30.7" y="0.0" font-style="italic">ρ</text><text transform="translate(37.6 3.6) scale(1.36 1.00)" font-style="italic" font-size="9.8">AB</text><text transform="translate(55.2 -0.3) scale(1.00 1.11)" font-size="15.2">)</text></g>
</g>
<g id="ax-f">
<polygon fill="#00ffff" points="331.4,552.3 332.1,551.4 332.6,551.3 332.4,550.3 333.8,548.9 333.7,548.6 334.4,546.9 335.5,546.0 335.5,545.9 336.9,545.3 337.1,543.5 338.1,543.2 338.3,542.1 338.5,541.1 339.8,540.6 339.8,540.4 340.9,538.8 341.6,538.4 341.4,537.3 341.9,536.8 342.4,535.3 343.4,534.5 343.3,534.3 344.7,533.0 344.6,532.8 345.2,531.8 346.5,530.5 347.1,529.6 346.9,529.1 347.3,527.6 348.4,527.4 349.2,526.7 349.0,525.6 350.4,524.5 350.7,524.1 351.6,522.6 351.8,522.5 352.5,521.7 353.0,520.1 353.9,520.2 353.8,518.6 355.1,518.1 355.3,517.1 355.6,516.1 356.5,516.1 356.8,514.4 358.0,514.5 358.5,512.9 359.0,512.3 359.2,511.3 359.5,510.2 360.3,510.4 361.1,509.4 361.3,508.1 362.1,507.1 362.8,506.5 363.9,505.8 363.4,505.3 364.4,503.9 365.0,503.1 366.0,502.8 366.5,502.1 366.6,500.7 367.0,500.3 368.0,499.4 368.7,498.6 369.0,497.3 369.5,496.7 370.2,495.3 371.0,494.9 371.5,494.5 371.7,493.5 372.3,492.5 372.4,492.0 373.7,490.5 374.6,490.4 374.5,489.5 374.8,488.2 376.1,487.2 376.6,486.5 377.0,485.5 377.5,485.6 378.3,484.6 379.2,482.9 379.6,482.2 380.4,481.7 381.0,480.6 380.7,480.4 381.3,479.8 382.5,478.0 383.1,477.7 383.7,476.3 384.3,476.5 384.9,474.8 384.7,474.8 385.6,473.7 386.1,472.6 386.6,472.2 387.7,470.8 387.3,470.2 388.1,469.5 388.6,467.9 390.0,467.1 389.9,467.2 390.9,466.0 391.7,465.7 391.4,464.6 393.0,464.0 392.4,462.3 393.5,461.6 394.0,461.2 395.2,460.6 395.7,459.0 396.4,458.9 396.2,457.3 397.6,457.0 397.9,456.1 398.0,455.7 399.3,454.8 399.8,453.8 400.6,453.2 400.3,452.0 401.3,450.6 401.4,450.3 401.9,449.7 403.1,449.2 403.6,448.0 404.4,447.0 405.1,446.7 405.5,445.1 405.8,444.2 406.1,444.3 407.5,442.7 407.3,441.5 408.6,441.2 408.6,440.7 409.5,439.9 410.6,438.9 410.5,438.1 411.7,437.5 412.0,436.5 412.9,436.1 413.1,434.9 413.6,433.8 414.7,433.2 415.4,432.5 415.0,431.9 416.7,431.2 416.2,430.1 417.8,429.6 417.5,428.8 418.9,428.0 420.4,427.7 421.4,427.4 422.1,426.6 423.3,427.2 423.7,426.1 424.6,425.8 426.4,425.8 426.7,426.0 427.5,426.1 428.6,426.2 430.1,425.3 431.6,425.2 432.5,425.0 432.6,425.3 434.5,424.9 434.5,424.9 436.5,424.5 437.5,424.9 437.5,424.4 438.6,424.5 439.4,424.2 440.4,424.7 442.4,424.2 442.7,423.6 444.2,423.6 445.5,423.5 445.8,423.6 447.3,423.6 447.5,423.8 448.9,423.1 450.6,423.3 451.2,424.0 452.5,422.9 452.5,422.9 454.1,423.2 455.5,424.0 456.2,423.6 456.6,424.1 457.8,423.4 459.2,424.1 460.5,424.2 461.5,424.3 462.2,423.3 463.4,423.9 464.1,424.1 465.4,424.6 466.0,424.2 467.0,424.1 467.5,423.6 469.4,424.4 470.6,423.9 471.3,424.1 472.2,424.2 472.5,424.8 474.2,424.6 474.9,424.0 475.6,424.7 476.7,424.6 478.0,424.0 479.5,424.8 480.6,425.2 481.5,425.0 482.3,424.2 482.6,424.4 483.5,424.8 485.4,424.5 485.8,425.2 486.9,424.8 488.1,424.2 489.5,424.8 490.1,424.3 491.0,424.9 491.5,424.5 492.5,424.8 494.1,424.5 495.2,424.8 495.8,425.4 496.4,424.8 498.0,425.9 499.0,425.5 499.8,426.7 501.2,425.9 502.2,427.7 500.9,427.9 500.1,428.4 500.0,430.1 499.3,430.7 499.0,431.1 498.4,432.8 497.0,433.4 496.6,433.6 496.3,434.8 494.9,435.8 495.0,436.4 493.9,437.0 492.8,438.5 492.3,439.1 491.6,440.3 490.9,440.4 490.1,441.3 489.9,442.7 488.7,443.5 488.3,444.0 487.6,444.8 486.8,445.6 485.7,445.8 485.9,446.5 484.4,447.6 483.6,447.6 482.8,449.0 482.0,449.6 482.0,450.0 480.9,450.3 480.1,451.7 479.1,451.8 477.9,452.2 478.3,453.2 476.4,453.5 476.0,455.0 474.9,455.9 474.3,456.6 473.5,456.8 472.9,457.0 471.9,458.2 471.3,458.5 470.4,459.7 470.4,460.6 469.7,461.4 468.8,461.6 467.7,461.9 466.7,463.4 465.6,464.0 465.3,463.8 463.7,464.8 463.0,465.2 462.6,466.6 462.2,467.5 461.0,468.1 459.8,468.7 458.7,469.5 457.8,470.2 457.9,470.8 457.2,471.2 456.2,471.7 455.3,472.6 453.7,473.5 453.6,473.8 452.9,473.9 451.4,474.8 450.3,475.4 449.5,476.6 448.7,476.6 448.8,478.1 447.6,478.5 446.5,478.7 446.4,479.7 445.9,480.3 444.9,480.6 444.2,481.2 443.0,482.0 442.2,482.3 442.0,482.9 441.0,483.9 439.6,484.7 439.0,485.7 438.1,486.1 437.7,486.8 437.2,487.7 436.1,488.3 435.8,489.3 434.3,489.6 434.3,489.8 433.1,491.2 431.8,491.8 431.5,492.2 431.1,492.7 430.1,493.6 429.6,494.1 428.5,494.0 427.1,495.7 426.3,495.7 426.3,497.0 424.4,497.4 423.7,498.1 423.9,498.1 422.5,498.4 421.4,499.3 420.5,500.3 419.4,500.3 418.7,501.5 418.2,502.3 417.8,502.3 416.9,502.9 416.1,503.5 415.1,504.2 413.6,504.6 413.0,504.9 413.0,505.5 411.2,506.4 410.9,507.5 409.7,507.8 409.5,508.7 407.9,508.3 407.0,508.8 406.2,510.0 406.0,510.9 405.3,511.4 404.7,512.2 403.0,512.2 402.7,512.8 402.1,513.4 400.3,513.8 400.6,514.3 399.4,515.2 398.5,516.4 397.3,516.3 397.1,517.5 396.3,517.3 395.4,518.0 393.9,519.2 393.5,519.5 392.0,520.3 391.3,521.3 391.4,521.3 390.5,521.9 388.9,522.7 388.3,523.5 387.7,523.7 387.0,524.6 386.3,525.3 385.2,525.4 383.9,526.9 383.4,527.3 382.1,528.5 381.3,528.4 381.3,529.1 379.6,529.9 379.7,530.0 378.7,531.0 377.6,531.7 377.2,532.6 376.3,532.9 375.5,533.7 374.1,534.1 373.8,534.5 372.8,534.9 371.5,535.9 370.3,536.6 370.6,536.8 369.4,537.3 367.7,537.7 366.8,538.5 366.6,539.5 365.3,539.1 364.5,540.5 363.6,541.0 362.8,541.5 362.2,541.4 361.3,541.9 360.1,543.3 359.2,542.9 358.1,544.2 357.7,544.5 356.7,544.5 355.6,545.3 355.1,545.9 354.2,546.1 352.6,546.3 351.4,547.5 350.9,546.9 350.1,547.9 348.5,548.3 348.2,548.7 346.7,549.3 346.0,549.3 345.1,549.5 344.4,549.7 343.2,549.6 342.0,550.0 341.0,551.2 340.6,551.6 338.9,551.7 338.1,551.2 336.7,551.7 336.2,551.6 335.4,551.7 333.7,551.9 332.7,551.9 331.7,552.7 330.6,552.1"/>
<path fill="#00ffff" d="M439 418h1v1h-1zM500 425h1v1h-1zM465 419h1v1h-1zM465 424h1v1h-1zM471 424h1v1h-1zM488 425h1v1h-1zM467 424h1v1h-1zM477 415h1v1h-1zM484 424h1v1h-1zM465 421h1v1h-1zM442 422h1v1h-1zM464 424h1v1h-1zM480 424h1v1h-1zM476 418h1v1h-1zM470 419h1v1h-1zM470 423h1v1h-1zM461 419h1v1h-1zM489 423h1v1h-1zM435 423h1v1h-1zM432 425h1v1h-1zM427 424h1v1h-1zM437 425h1v1h-1zM422 426h1v1h-1zM500 424h1v1h-1zM464 423h1v1h-1zM438 419h1v1h-1zM482 424h1v1h-1zM475 424h1v1h-1zM421 427h1v1h-1zM445 416h1v1h-1zM469 424h1v1h-1zM470 422h1v1h-1zM487 421h1v1h-1zM479 424h1v1h-1zM440 424h1v1h-1zM444 423h1v1h-1zM456 424h1v1h-1zM477 420h1v1h-1zM467 423h1v1h-1zM438 420h1v1h-1zM434 425h1v1h-1zM448 419h1v1h-1zM466 424h1v1h-1zM426 421h1v1h-1zM503 417h1v1h-1zM492 424h1v1h-1zM425 424h1v1h-1zM466 420h1v1h-1zM462 423h1v1h-1zM495 421h1v1h-1zM447 423h1v1h-1zM469 423h1v1h-1zM450 422h1v1h-1zM493 422h1v1h-1zM433 421h1v1h-1zM453 424h1v1h-1zM421 421h1v1h-1zM455 424h1v1h-1zM484 421h1v1h-1zM424 426h1v1h-1zM474 423h1v1h-1zM462 421h1v1h-1zM426 426h1v1h-1zM503 425h1v1h-1zM463 423h1v1h-1zM430 420h1v1h-1zM442 420h1v1h-1zM471 423h1v1h-1zM444 419h1v1h-1zM486 424h1v1h-1zM488 420h1v1h-1zM488 424h1v1h-1zM459 423h1v1h-1zM482 425h1v1h-1zM485 424h1v1h-1zM423 425h1v1h-1zM439 422h1v1h-1zM497 415h1v1h-1zM486 423h1v1h-1zM496 424h1v1h-1zM468 424h1v1h-1zM497 422h1v1h-1zM497 425h1v1h-1zM459 424h1v1h-1zM503 420h1v1h-1zM435 425h1v1h-1zM466 421h1v1h-1zM428 426h1v1h-1zM450 423h1v1h-1zM451 422h1v1h-1zM438 421h1v1h-1zM464 421h1v1h-1zM472 420h1v1h-1zM425 421h1v1h-1zM441 424h1v1h-1zM493 415h1v1h-1zM484 423h1v1h-1zM428 416h1v1h-1zM486 425h1v1h-1zM431 419h1v1h-1zM448 423h1v1h-1zM450 415h1v1h-1zM452 418h1v1h-1zM438 424h1v1h-1zM486 422h1v1h-1zM481 424h1v1h-1zM458 423h1v1h-1zM431 423h1v1h-1zM498 422h1v1h-1zM460 423h1v1h-1zM442 424h1v1h-1zM489 422h1v1h-1zM440 422h1v1h-1zM471 425h1v1h-1zM485 422h1v1h-1zM427 425h1v1h-1zM499 424h1v1h-1zM477 423h1v1h-1zM467 425h1v1h-1zM492 423h1v1h-1zM477 422h1v1h-1zM449 423h1v1h-1zM420 426h1v1h-1zM425 425h1v1h-1zM420 428h1v1h-1zM470 424h1v1h-1zM472 422h1v1h-1zM423 417h1v1h-1zM432 423h1v1h-1zM457 420h1v1h-1zM478 422h1v1h-1zM461 424h1v1h-1zM440 423h1v1h-1zM464 419h1v1h-1zM438 416h1v1h-1zM476 425h1v1h-1zM501 425h1v1h-1zM440 416h1v1h-1zM479 425h1v1h-1zM468 421h1v1h-1zM494 424h1v1h-1zM457 424h1v1h-1zM497 424h1v1h-1zM424 420h1v1h-1zM478 423h1v1h-1zM462 424h1v1h-1zM490 420h1v1h-1zM504 425h1v1h-1zM421 426h1v1h-1zM466 422h1v1h-1zM499 416h1v1h-1zM496 420h1v1h-1zM443 423h1v1h-1zM480 418h1v1h-1zM482 423h1v1h-1zM503 424h1v1h-1zM498 421h1v1h-1zM462 422h1v1h-1zM426 417h1v1h-1zM441 423h1v1h-1zM444 424h1v1h-1zM431 422h1v1h-1zM424 423h1v1h-1zM454 422h1v1h-1zM483 424h1v1h-1zM463 422h1v1h-1zM453 422h1v1h-1zM488 423h1v1h-1zM430 426h1v1h-1zM455 421h1v1h-1zM472 424h1v1h-1zM489 418h1v1h-1zM451 423h1v1h-1zM438 422h1v1h-1zM504 424h1v1h-1zM489 415h1v1h-1zM455 420h1v1h-1zM426 425h1v1h-1zM492 418h1v1h-1zM477 424h1v1h-1zM429 424h1v1h-1zM431 425h1v1h-1zM422 425h1v1h-1zM428 425h1v1h-1zM452 415h1v1h-1zM504 426h1v1h-1zM493 423h1v1h-1zM483 423h1v1h-1zM472 421h1v1h-1zM436 423h1v1h-1zM428 419h1v1h-1zM431 424h1v1h-1zM477 421h1v1h-1zM437 423h1v1h-1zM458 422h1v1h-1zM500 426h1v1h-1zM503 421h1v1h-1zM473 423h1v1h-1zM501 421h1v1h-1zM438 423h1v1h-1zM431 420h1v1h-1zM444 420h1v1h-1zM451 421h1v1h-1zM452 423h1v1h-1zM491 425h1v1h-1zM451 424h1v1h-1zM478 424h1v1h-1zM500 421h1v1h-1zM487 423h1v1h-1zM469 422h1v1h-1zM474 422h1v1h-1zM442 423h1v1h-1zM488 422h1v1h-1zM479 419h1v1h-1zM472 423h1v1h-1zM466 423h1v1h-1zM490 419h1v1h-1zM458 418h1v1h-1zM499 423h1v1h-1zM440 418h1v1h-1zM452 420h1v1h-1zM502 424h1v1h-1zM427 422h1v1h-1zM439 424h1v1h-1zM421 425h1v1h-1zM493 424h1v1h-1zM498 424h1v1h-1zM458 421h1v1h-1zM506 421h1v1h-1zM477 416h1v1h-1zM477 418h1v1h-1zM428 421h1v1h-1zM484 418h1v1h-1zM489 424h1v1h-1zM471 417h1v1h-1zM465 418h1v1h-1zM426 424h1v1h-1zM476 424h1v1h-1zM475 423h1v1h-1zM425 426h1v1h-1zM429 425h1v1h-1zM487 425h1v1h-1zM428 424h1v1h-1zM463 424h1v1h-1zM452 421h1v1h-1zM420 427h1v1h-1zM459 414h1v1h-1zM476 423h1v1h-1zM502 419h1v1h-1zM430 421h1v1h-1zM473 414h1v1h-1zM447 419h1v1h-1zM471 422h1v1h-1zM460 422h1v1h-1zM448 417h1v1h-1zM449 419h1v1h-1zM482 417h1v1h-1zM422 427h1v1h-1zM448 422h1v1h-1zM480 420h1v1h-1zM500 418h1v1h-1zM454 421h1v1h-1zM452 422h1v1h-1zM502 418h1v1h-1zM494 425h1v1h-1zM502 421h1v1h-1zM435 421h1v1h-1zM491 422h1v1h-1zM485 421h1v1h-1zM454 423h1v1h-1zM433 425h1v1h-1zM456 422h1v1h-1zM446 422h1v1h-1zM422 421h1v1h-1zM482 416h1v1h-1zM446 416h1v1h-1zM435 422h1v1h-1zM473 425h1v1h-1zM453 421h1v1h-1zM489 414h1v1h-1zM500 423h1v1h-1zM449 418h1v1h-1zM445 423h1v1h-1zM424 425h1v1h-1zM506 424h1v1h-1zM450 420h1v1h-1zM436 425h1v1h-1zM497 418h1v1h-1zM434 424h1v1h-1zM428 417h1v1h-1zM482 421h1v1h-1zM484 417h1v1h-1zM422 424h1v1h-1zM481 423h1v1h-1zM448 420h1v1h-1zM453 420h1v1h-1zM506 419h1v1h-1zM481 422h1v1h-1zM433 420h1v1h-1zM442 414h1v1h-1zM474 424h1v1h-1zM471 420h1v1h-1zM446 415h1v1h-1zM438 425h1v1h-1zM465 417h1v1h-1zM465 422h1v1h-1zM466 419h1v1h-1zM493 421h1v1h-1zM464 420h1v1h-1zM496 422h1v1h-1zM490 421h1v1h-1zM491 421h1v1h-1zM505 425h1v1h-1zM501 423h1v1h-1zM481 425h1v1h-1zM437 422h1v1h-1zM433 422h1v1h-1zM476 422h1v1h-1zM448 421h1v1h-1zM446 424h1v1h-1zM502 426h1v1h-1zM502 425h1v1h-1zM456 421h1v1h-1zM454 419h1v1h-1zM490 416h1v1h-1zM463 421h1v1h-1zM501 426h1v1h-1zM442 419h1v1h-1zM465 423h1v1h-1zM495 424h1v1h-1zM459 416h1v1h-1zM486 420h1v1h-1zM498 420h1v1h-1zM433 426h1v1h-1zM473 421h1v1h-1zM422 423h1v1h-1zM499 422h1v1h-1zM448 424h1v1h-1zM475 417h1v1h-1zM444 421h1v1h-1zM433 423h1v1h-1zM423 426h1v1h-1zM446 421h1v1h-1zM465 415h1v1h-1zM439 423h1v1h-1zM487 424h1v1h-1zM423 427h1v1h-1zM503 426h1v1h-1zM498 425h1v1h-1zM476 421h1v1h-1zM443 424h1v1h-1zM432 426h1v1h-1zM505 426h1v1h-1zM441 418h1v1h-1zM442 418h1v1h-1zM483 422h1v1h-1zM480 425h1v1h-1zM422 419h1v1h-1zM449 424h1v1h-1zM460 420h1v1h-1zM467 422h1v1h-1zM493 418h1v1h-1zM458 424h1v1h-1zM450 417h1v1h-1zM495 425h1v1h-1zM443 422h1v1h-1zM484 422h1v1h-1zM475 420h1v1h-1zM459 421h1v1h-1zM492 419h1v1h-1zM435 419h1v1h-1zM445 424h1v1h-1zM435 417h1v1h-1zM423 422h1v1h-1zM478 425h1v1h-1zM474 421h1v1h-1zM436 419h1v1h-1zM467 421h1v1h-1zM445 422h1v1h-1zM501 420h1v1h-1zM431 426h1v1h-1zM444 417h1v1h-1zM502 429h1v1h-1zM507 426h1v1h-1zM498 436h1v1h-1zM503 431h1v1h-1zM497 433h1v1h-1zM501 430h1v1h-1zM504 427h1v1h-1zM498 433h1v1h-1zM500 432h1v1h-1zM498 435h1v1h-1zM498 432h1v1h-1zM499 432h1v1h-1zM501 429h1v1h-1zM496 435h1v1h-1zM501 428h1v1h-1zM500 430h1v1h-1zM503 433h1v1h-1zM503 427h1v1h-1zM497 436h1v1h-1zM503 428h1v1h-1zM499 433h1v1h-1zM497 434h1v1h-1zM502 427h1v1h-1zM502 433h1v1h-1zM496 436h1v1h-1zM499 431h1v1h-1zM500 431h1v1h-1zM504 430h1v1h-1zM502 428h1v1h-1zM499 435h1v1h-1zM498 434h1v1h-1zM500 433h1v1h-1zM502 434h1v1h-1zM501 431h1v1h-1zM499 436h1v1h-1zM491 408h1v1h-1zM488 413h1v1h-1zM500 414h1v1h-1zM508 416h1v1h-1zM512 418h1v1h-1zM516 411h1v1h-1zM520 413h1v1h-1zM509 424h1v1h-1z"/>
<rect x="320.00" y="401.10" width="214.50" height="159.80" fill="none" stroke="#1a1a1a" stroke-width="0.95"/>
<path d="M330.21 560.90v2.3M320.00 553.29h-2.3M371.07 560.90v2.3M320.00 522.85h-2.3M411.93 560.90v2.3M320.00 492.41h-2.3M452.79 560.90v2.3M320.00 461.98h-2.3M493.64 560.90v2.3M320.00 431.54h-2.3M534.50 560.90v2.3M320.00 401.10h-2.3" stroke="#1a1a1a" stroke-width="0.75" fill="none"/>
<g font-family="DejaVu Sans, Liberation Sans, sans-serif" font-size="9.1" letter-spacing="-0.12" fill="#161616" stroke="#161616" stroke-width="0.18"><text x="330.2" y="572.2" text-anchor="middle">0.0</text><text x="316.0" y="556.9" text-anchor="end">0.0</text><text x="371.1" y="572.2" text-anchor="middle">0.2</text><text x="316.0" y="526.5" text-anchor="end">0.2</text><text x="411.9" y="572.2" text-anchor="middle">0.4</text><text x="316.0" y="496.0" text-anchor="end">0.4</text><text x="452.8" y="572.2" text-anchor="middle">0.6</text><text x="316.0" y="465.6" text-anchor="end">0.6</text><text x="493.6" y="572.2" text-anchor="middle">0.8</text><text x="316.0" y="435.1" text-anchor="end">0.8</text><text x="534.5" y="572.2" text-anchor="middle">1.0</text><text x="316.0" y="404.7" text-anchor="end">1.0</text></g>
<text x="340.4" y="431.9" text-anchor="middle" font-family="Liberation Serif, DejaVu Serif, serif" font-weight="bold" font-size="14" fill="#111">(f)</text>
<g transform="translate(413.1 586.0)" font-family="Liberation Serif, DejaVu Serif, serif" font-size="14.2" fill="#262626"><text x="0.0" y="0.0" font-style="italic">I</text><text transform="translate(5.6 0.8) scale(1.00 1.11)" font-size="15.2">(</text><text x="11.3" y="0.0" font-style="italic">ρ</text><text transform="translate(18.2 3.6) scale(1.36 1.00)" font-style="italic" font-size="9.8">AB</text><text transform="translate(35.8 0.8) scale(1.00 1.11)" font-size="15.2">)</text></g>
<g transform="translate(295.0 503.0) rotate(-90)" font-family="Liberation Serif, DejaVu Serif, serif" font-size="14.2" fill="#262626"><text x="-0.5" y="0.0" font-style="italic">D</text><text x="9.8" y="1.9" font-size="7.3" letter-spacing="0.2">KL</text><text transform="translate(20.6 -0.3) scale(1.00 1.11)" font-size="15.2">(</text><text x="26.3" y="0.0" font-style="italic">ρ</text><text transform="translate(33.2 3.6) scale(1.36 1.00)" font-style="italic" font-size="9.8">AB</text><text transform="translate(50.8 -0.3) scale(1.00 1.11)" font-size="15.2">)</text></g>
</g>
</svg>
</body></html>
